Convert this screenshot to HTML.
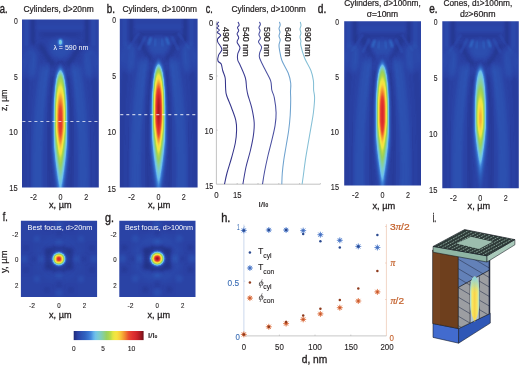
<!DOCTYPE html>
<html><head><meta charset="utf-8"><title>Figure</title>
<style>
html,body{margin:0;padding:0;background:#fff;}
body{width:520px;height:365px;overflow:hidden;}
svg{display:block;font-family:"Liberation Sans",sans-serif;}
</style></head><body>
<svg width="520" height="365" viewBox="0 0 520 365">
<defs>
<filter id="cm" filterUnits="userSpaceOnUse" x="0" y="0" width="520" height="365" color-interpolation-filters="sRGB">
<feComponentTransfer><feFuncR type="table" tableValues="0.118 0.130 0.142 0.154 0.165 0.168 0.171 0.174 0.177 0.181 0.184 0.194 0.207 0.220 0.233 0.247 0.288 0.330 0.373 0.415 0.437 0.453 0.469 0.486 0.498 0.510 0.523 0.536 0.555 0.575 0.595 0.623 0.653 0.682 0.742 0.813 0.885 0.937 0.948 0.958 0.969 0.973 0.973 0.973 0.969 0.960 0.952 0.944 0.935 0.925 0.915 0.906 0.898 0.890 0.882 0.864 0.839 0.815 0.790 0.747 0.698 0.649 0.581 0.498 0.416"/><feFuncG type="table" tableValues="0.165 0.188 0.212 0.235 0.258 0.278 0.299 0.319 0.339 0.359 0.379 0.402 0.426 0.450 0.473 0.497 0.557 0.618 0.679 0.741 0.763 0.775 0.787 0.800 0.804 0.808 0.812 0.816 0.816 0.816 0.816 0.825 0.835 0.844 0.860 0.879 0.897 0.907 0.898 0.890 0.881 0.845 0.796 0.747 0.694 0.637 0.580 0.523 0.458 0.389 0.321 0.272 0.247 0.223 0.198 0.178 0.162 0.146 0.129 0.118 0.108 0.098 0.087 0.075 0.063"/><feFuncB type="table" tableValues="0.471 0.516 0.560 0.605 0.646 0.663 0.680 0.697 0.715 0.732 0.749 0.768 0.787 0.807 0.827 0.846 0.869 0.891 0.914 0.937 0.915 0.882 0.850 0.817 0.761 0.704 0.646 0.588 0.519 0.451 0.382 0.354 0.329 0.305 0.288 0.274 0.260 0.251 0.251 0.251 0.251 0.244 0.235 0.225 0.216 0.208 0.199 0.191 0.188 0.188 0.188 0.188 0.188 0.188 0.188 0.183 0.175 0.167 0.159 0.149 0.140 0.130 0.119 0.106 0.094"/></feComponentTransfer></filter>
<filter id="b05" x="-50%" y="-50%" width="200%" height="200%" color-interpolation-filters="sRGB"><feGaussianBlur stdDeviation="0.5"/></filter>
<filter id="b08" x="-50%" y="-50%" width="200%" height="200%" color-interpolation-filters="sRGB"><feGaussianBlur stdDeviation="0.8"/></filter>
<filter id="b1" x="-50%" y="-50%" width="200%" height="200%" color-interpolation-filters="sRGB"><feGaussianBlur stdDeviation="1"/></filter>
<filter id="b15" x="-50%" y="-50%" width="200%" height="200%" color-interpolation-filters="sRGB"><feGaussianBlur stdDeviation="1.5"/></filter>
<filter id="b2" x="-50%" y="-50%" width="200%" height="200%" color-interpolation-filters="sRGB"><feGaussianBlur stdDeviation="2"/></filter>
<filter id="b3" x="-50%" y="-50%" width="200%" height="200%" color-interpolation-filters="sRGB"><feGaussianBlur stdDeviation="3"/></filter>
<filter id="b4" x="-50%" y="-50%" width="200%" height="200%" color-interpolation-filters="sRGB"><feGaussianBlur stdDeviation="4"/></filter>
<filter id="b2x6" x="-50%" y="-50%" width="200%" height="200%" color-interpolation-filters="sRGB"><feGaussianBlur stdDeviation="2 6"/></filter>
<filter id="b1x4" x="-50%" y="-50%" width="200%" height="200%" color-interpolation-filters="sRGB"><feGaussianBlur stdDeviation="1.2 4"/></filter>
<filter id="b3x8" x="-50%" y="-50%" width="200%" height="200%" color-interpolation-filters="sRGB"><feGaussianBlur stdDeviation="3 8"/></filter>
<linearGradient id="cbar" x1="0" x2="1" y1="0" y2="0"><stop offset="0" stop-color="#1e2a78"/><stop offset="0.03" stop-color="#24368f"/><stop offset="0.06" stop-color="#2a42a5"/><stop offset="0.09" stop-color="#2c4cad"/><stop offset="0.12" stop-color="#2d56b6"/><stop offset="0.16" stop-color="#2f61bf"/><stop offset="0.19" stop-color="#356dc9"/><stop offset="0.22" stop-color="#3c79d3"/><stop offset="0.25" stop-color="#498ede"/><stop offset="0.28" stop-color="#5fade9"/><stop offset="0.31" stop-color="#6fc2e9"/><stop offset="0.34" stop-color="#78c9d9"/><stop offset="0.38" stop-color="#7fcdc2"/><stop offset="0.41" stop-color="#85cfa5"/><stop offset="0.44" stop-color="#8ed084"/><stop offset="0.47" stop-color="#98d061"/><stop offset="0.5" stop-color="#a6d554"/><stop offset="0.53" stop-color="#bddb49"/><stop offset="0.56" stop-color="#e2e542"/><stop offset="0.59" stop-color="#f2e540"/><stop offset="0.62" stop-color="#f7e140"/><stop offset="0.66" stop-color="#f8cb3c"/><stop offset="0.69" stop-color="#f7b137"/><stop offset="0.72" stop-color="#f39433"/><stop offset="0.75" stop-color="#ee7530"/><stop offset="0.78" stop-color="#e95230"/><stop offset="0.81" stop-color="#e53f30"/><stop offset="0.84" stop-color="#e13230"/><stop offset="0.88" stop-color="#d6292d"/><stop offset="0.91" stop-color="#ca2128"/><stop offset="0.94" stop-color="#b21c24"/><stop offset="0.97" stop-color="#94161e"/><stop offset="1" stop-color="#6a1018"/></linearGradient>
</defs>
<rect width="520" height="365" fill="#fff"/>
<clipPath id="cpa"><rect x="22" y="19.5" width="76.8" height="168.1"/></clipPath>
<g clip-path="url(#cpa)"><g filter="url(#cm)">
<rect x="17" y="14.5" width="86.8" height="178.1" fill="#111111"/>
<rect x="36.4" y="24.5" width="48" height="6" fill="#fff" fill-opacity="0.02" filter="url(#b2)"/>
<rect x="39.4" y="32" width="42" height="5" fill="#000" fill-opacity="0.34" filter="url(#b2)"/>
<line x1="40.4" y1="34" x2="80.4" y2="34" stroke="#000" stroke-opacity="0.31" stroke-width="3" stroke-dasharray="2.2 2.6" filter="url(#b08)"/>
<line x1="38" y1="27.5" x2="84.4" y2="27.5" stroke="#fff" stroke-opacity="0.02" stroke-width="2.5" stroke-dasharray="2.4 2.4" filter="url(#b08)"/>
<rect x="30.9" y="16.5" width="4" height="28" fill="#000" fill-opacity="0.46" filter="url(#b15)"/>
<rect x="84.9" y="16.5" width="4" height="28" fill="#000" fill-opacity="0.46" filter="url(#b15)"/>
<rect x="24.9" y="16.5" width="3" height="30" fill="#fff" fill-opacity="0.03" filter="url(#b15)"/>
<rect x="91.9" y="16.5" width="3" height="30" fill="#fff" fill-opacity="0.03" filter="url(#b15)"/>
<ellipse cx="60.4" cy="48.5" rx="12" ry="11" fill="#fff" fill-opacity="0.04" filter="url(#b3)"/>
<ellipse cx="60.4" cy="63" rx="4" ry="3.5" fill="#000" fill-opacity="0.31" filter="url(#b2)"/>
<line x1="39.4" y1="44" x2="53.4" y2="66" stroke="#000" stroke-opacity="0.49" stroke-width="5.5" filter="url(#b2)"/>
<ellipse cx="30.4" cy="64" rx="7" ry="15" fill="#fff" fill-opacity="0.05" filter="url(#b3)"/>
<line x1="81.4" y1="44" x2="67.4" y2="66" stroke="#000" stroke-opacity="0.49" stroke-width="5.5" filter="url(#b2)"/>
<ellipse cx="90.4" cy="64" rx="7" ry="15" fill="#fff" fill-opacity="0.05" filter="url(#b3)"/>
<path d="M45.4,66Q34.9,115.2 36.4,191.6" fill="none" stroke="#fff" stroke-opacity="0.05" stroke-width="10" filter="url(#b3)"/>
<path d="M48.4,62Q39.15,117.2 40.9,191.6" fill="none" stroke="#fff" stroke-opacity="0.02" stroke-width="3.5" filter="url(#b15)"/>
<path d="M52.9,76Q47.4,116.2 49.9,191.6" fill="none" stroke="#000" stroke-opacity="0.4" stroke-width="4" filter="url(#b2)"/>
<path d="M39.4,58Q29.65,115.2 30.9,191.6" fill="none" stroke="#000" stroke-opacity="0.18" stroke-width="2.5" filter="url(#b15)"/>
<path d="M29.4,54Q21.9,113.2 22.4,191.6" fill="none" stroke="#000" stroke-opacity="0.31" stroke-width="5" filter="url(#b2)"/>
<path d="M75.4,66Q85.9,115.2 84.4,191.6" fill="none" stroke="#fff" stroke-opacity="0.05" stroke-width="10" filter="url(#b3)"/>
<path d="M72.4,62Q81.65,117.2 79.9,191.6" fill="none" stroke="#fff" stroke-opacity="0.02" stroke-width="3.5" filter="url(#b15)"/>
<path d="M67.9,76Q73.4,116.2 70.9,191.6" fill="none" stroke="#000" stroke-opacity="0.4" stroke-width="4" filter="url(#b2)"/>
<path d="M81.4,58Q91.15,115.2 89.9,191.6" fill="none" stroke="#000" stroke-opacity="0.18" stroke-width="2.5" filter="url(#b15)"/>
<path d="M91.4,54Q98.9,113.2 98.4,191.6" fill="none" stroke="#000" stroke-opacity="0.31" stroke-width="5" filter="url(#b2)"/>
<ellipse cx="60.4" cy="42.2" rx="1.9" ry="3.1" fill="#fff" fill-opacity="0.33" filter="url(#b08)"/>
<g filter="url(#b08)"><path d="M60.4,63 64.13,69.34 65.51,75.68 66.45,82.03 67.14,88.37 67.65,94.71 68.03,101.05 68.3,107.39 68.48,113.74 68.57,120.08 68.6,126.42 68.6,150.58 68.27,156.92 67.74,163.26 67.08,169.61 66.33,175.95 65.49,182.29 64.59,188.63 63.62,194.97 62.6,201.32 61.52,207.66 60.4,214 L60.4,214 59.28,207.66 58.2,201.32 57.18,194.97 56.21,188.63 55.31,182.29 54.47,175.95 53.72,169.61 53.06,163.26 52.53,156.92 52.2,150.58 52.2,126.42 52.23,120.08 52.32,113.74 52.5,107.39 52.77,101.05 53.15,94.71 53.66,88.37 54.35,82.03 55.29,75.68 56.67,69.34 60.4,63Z" fill="#1a1a1a"/>
<path d="M60.4,64.48 63.93,70.56 65.23,76.64 66.12,82.72 66.77,88.8 67.26,94.88 67.62,100.97 67.88,107.05 68.04,113.13 68.13,119.21 68.16,125.29 68.16,148.45 67.85,154.53 67.34,160.62 66.72,166.7 66.01,172.78 65.22,178.86 64.36,184.94 63.45,191.02 62.48,197.1 61.46,203.18 60.4,209.26 L60.4,209.26 59.34,203.18 58.32,197.1 57.35,191.02 56.44,184.94 55.58,178.86 54.79,172.78 54.08,166.7 53.46,160.62 52.95,154.53 52.64,148.45 52.64,125.29 52.67,119.21 52.76,113.13 52.92,107.05 53.18,100.97 53.54,94.88 54.03,88.8 54.68,82.72 55.57,76.64 56.87,70.56 60.4,64.48Z" fill="#212121"/>
<path d="M60.4,65.73 63.76,71.59 65,77.45 65.85,83.31 66.47,89.17 66.94,95.03 67.28,100.89 67.52,106.75 67.68,112.61 67.77,118.47 67.79,124.33 67.79,146.66 67.5,152.52 67.01,158.38 66.42,164.24 65.74,170.1 64.99,175.96 64.18,181.82 63.3,187.68 62.38,193.54 61.41,199.4 60.4,205.26 L60.4,205.26 59.39,199.4 58.42,193.54 57.5,187.68 56.62,181.82 55.81,175.96 55.06,170.1 54.38,164.24 53.79,158.38 53.3,152.52 53.01,146.66 53.01,124.33 53.03,118.47 53.12,112.61 53.28,106.75 53.52,100.89 53.86,95.03 54.33,89.17 54.95,83.31 55.8,77.45 57.04,71.59 60.4,65.73Z" fill="#292929"/>
<path d="M60.4,66.47 63.67,72.2 64.88,77.93 65.71,83.66 66.31,89.39 66.77,95.12 67.1,100.85 67.34,106.58 67.49,112.31 67.57,118.04 67.6,123.77 67.6,145.6 67.31,151.33 66.84,157.05 66.26,162.78 65.6,168.51 64.87,174.24 64.08,179.97 63.23,185.7 62.33,191.43 61.39,197.16 60.4,202.89 L60.4,202.89 59.41,197.16 58.47,191.43 57.57,185.7 56.72,179.97 55.93,174.24 55.2,168.51 54.54,162.78 53.96,157.05 53.49,151.33 53.2,145.6 53.2,123.77 53.23,118.04 53.31,112.31 53.46,106.58 53.7,100.85 54.03,95.12 54.49,89.39 55.09,83.66 55.92,77.93 57.13,72.2 60.4,66.47Z" fill="#303030"/>
<path d="M60.4,67.21 63.59,72.81 64.76,78.41 65.57,84.01 66.16,89.61 66.6,95.21 66.92,100.81 67.15,106.41 67.3,112 67.38,117.6 67.41,123.2 67.41,144.53 67.13,150.13 66.67,155.73 66.11,161.33 65.46,166.93 64.75,172.53 63.98,178.13 63.15,183.73 62.28,189.32 61.36,194.92 60.4,200.52 L60.4,200.52 59.44,194.92 58.52,189.32 57.65,183.73 56.82,178.13 56.05,172.53 55.34,166.93 54.69,161.33 54.13,155.73 53.67,150.13 53.39,144.53 53.39,123.2 53.42,117.6 53.5,112 53.65,106.41 53.88,100.81 54.2,95.21 54.64,89.61 55.23,84.01 56.04,78.41 57.21,72.81 60.4,67.21Z" fill="#383838"/>
<path d="M60.4,67.95 63.5,73.42 64.64,78.89 65.42,84.36 66,89.83 66.43,95.29 66.74,100.76 66.97,106.23 67.11,111.7 67.19,117.17 67.21,122.64 67.21,143.47 66.94,148.94 66.5,154.41 65.95,159.87 65.32,165.34 64.63,170.81 63.88,176.28 63.08,181.75 62.23,187.22 61.33,192.69 60.4,198.15 L60.4,198.15 59.47,192.69 58.57,187.22 57.72,181.75 56.92,176.28 56.17,170.81 55.48,165.34 54.85,159.87 54.3,154.41 53.86,148.94 53.59,143.47 53.59,122.64 53.61,117.17 53.69,111.7 53.83,106.23 54.06,100.76 54.37,95.29 54.8,89.83 55.38,84.36 56.16,78.89 57.3,73.42 60.4,67.95Z" fill="#3f3f3f"/>
<path d="M60.4,68.52 63.41,73.84 64.53,79.16 65.29,84.48 65.84,89.81 66.26,95.13 66.57,100.45 66.79,105.77 66.93,111.09 67.01,116.42 67.03,121.74 67.03,142.01 66.76,147.33 66.33,152.66 65.8,157.98 65.19,163.3 64.52,168.62 63.79,173.94 63,179.27 62.18,184.59 61.31,189.91 60.4,195.23 L60.4,195.23 59.49,189.91 58.62,184.59 57.8,179.27 57.01,173.94 56.28,168.62 55.61,163.3 55,157.98 54.47,152.66 54.04,147.33 53.77,142.01 53.77,121.74 53.79,116.42 53.87,111.09 54.01,105.77 54.23,100.45 54.54,95.13 54.96,89.81 55.51,84.48 56.27,79.16 57.39,73.84 60.4,68.52Z" fill="#474747"/>
<path d="M60.4,69.07 63.33,74.25 64.41,79.42 65.15,84.6 65.69,89.77 66.1,94.95 66.4,100.12 66.61,105.29 66.75,110.47 66.82,115.64 66.84,120.82 66.84,140.53 66.59,145.7 66.17,150.88 65.65,156.05 65.06,161.22 64.4,166.4 63.69,171.57 62.93,176.75 62.13,181.92 61.28,187.1 60.4,192.27 L60.4,192.27 59.52,187.1 58.67,181.92 57.87,176.75 57.11,171.57 56.4,166.4 55.74,161.22 55.15,156.05 54.63,150.88 54.21,145.7 53.96,140.53 53.96,120.82 53.98,115.64 54.05,110.47 54.19,105.29 54.4,100.12 54.7,94.95 55.11,89.77 55.65,84.6 56.39,79.42 57.47,74.25 60.4,69.07Z" fill="#4e4e4e"/>
<path d="M60.4,69.69 63.25,74.71 64.3,79.72 65.01,84.73 65.54,89.75 65.94,94.76 66.23,99.78 66.43,104.79 66.57,109.81 66.64,114.82 66.66,119.83 66.66,138.94 66.41,143.95 66,148.96 65.5,153.98 64.92,158.99 64.29,164.01 63.6,169.02 62.86,174.03 62.08,179.05 61.26,184.06 60.4,189.08 L60.4,189.08 59.54,184.06 58.72,179.05 57.94,174.03 57.2,169.02 56.51,164.01 55.88,158.99 55.3,153.98 54.8,148.96 54.39,143.95 54.14,138.94 54.14,119.83 54.16,114.82 54.23,109.81 54.37,104.79 54.57,99.78 54.86,94.76 55.26,89.75 55.79,84.73 56.5,79.72 57.55,74.71 60.4,69.69Z" fill="#565656"/>
<path d="M60.4,70.51 63.16,75.33 64.18,80.14 64.88,84.96 65.39,89.77 65.77,94.58 66.06,99.4 66.26,104.21 66.39,109.03 66.46,113.84 66.48,118.65 66.48,136.99 66.23,141.8 65.84,146.62 65.35,151.43 64.79,156.25 64.17,161.06 63.5,165.87 62.79,170.69 62.03,175.5 61.23,180.31 60.4,185.13 L60.4,185.13 59.57,180.31 58.77,175.5 58.01,170.69 57.3,165.87 56.63,161.06 56.01,156.25 55.45,151.43 54.96,146.62 54.57,141.8 54.32,136.99 54.32,118.65 54.34,113.84 54.41,109.03 54.54,104.21 54.74,99.4 55.03,94.58 55.41,89.77 55.92,84.96 56.62,80.14 57.64,75.33 60.4,70.51Z" fill="#5d5d5d"/>
<path d="M60.4,71.34 63.08,75.95 64.07,80.56 64.75,85.18 65.24,89.79 65.61,94.4 65.89,99.02 66.08,103.63 66.21,108.24 66.28,112.86 66.3,117.47 66.3,135.05 66.06,139.66 65.68,144.27 65.2,148.89 64.66,153.5 64.06,158.11 63.41,162.73 62.72,167.34 61.98,171.95 61.21,176.57 60.4,181.18 L60.4,181.18 59.59,176.57 58.82,171.95 58.08,167.34 57.39,162.73 56.74,158.11 56.14,153.5 55.6,148.89 55.12,144.27 54.74,139.66 54.5,135.05 54.5,117.47 54.52,112.86 54.59,108.24 54.72,103.63 54.91,99.02 55.19,94.4 55.56,89.79 56.05,85.18 56.73,80.56 57.72,75.95 60.4,71.34Z" fill="#656565"/>
<path d="M60.4,72.29 62.99,76.7 63.95,81.11 64.6,85.53 65.08,89.94 65.44,94.35 65.7,98.76 65.89,103.18 66.01,107.59 66.08,112 66.1,116.41 66.1,133.22 65.87,137.64 65.5,142.05 65.04,146.46 64.52,150.88 63.94,155.29 63.31,159.7 62.64,164.11 61.93,168.53 61.18,172.94 60.4,177.35 L60.4,177.35 59.62,172.94 58.87,168.53 58.16,164.11 57.49,159.7 56.86,155.29 56.28,150.88 55.76,146.46 55.3,142.05 54.93,137.64 54.7,133.22 54.7,116.41 54.72,112 54.79,107.59 54.91,103.18 55.1,98.76 55.36,94.35 55.72,89.94 56.2,85.53 56.85,81.11 57.81,76.7 60.4,72.29Z" fill="#6d6d6d"/>
<path d="M60.4,73.77 62.86,77.98 63.77,82.19 64.4,86.4 64.85,90.61 65.19,94.82 65.44,99.03 65.62,103.24 65.74,107.45 65.8,111.66 65.82,115.87 65.82,131.91 65.6,136.12 65.25,140.34 64.81,144.55 64.32,148.76 63.77,152.97 63.17,157.18 62.53,161.39 61.85,165.6 61.14,169.81 60.4,174.02 L60.4,174.02 59.66,169.81 58.95,165.6 58.27,161.39 57.63,157.18 57.03,152.97 56.48,148.76 55.99,144.55 55.55,140.34 55.2,136.12 54.98,131.91 54.98,115.87 55,111.66 55.06,107.45 55.18,103.24 55.36,99.03 55.61,94.82 55.95,90.61 56.4,86.4 57.03,82.19 57.94,77.98 60.4,73.77Z" fill="#747474"/>
<path d="M60.4,75.25 62.74,79.26 63.6,83.27 64.19,87.28 64.62,91.28 64.95,95.29 65.19,99.3 65.36,103.31 65.47,107.32 65.52,111.33 65.54,115.33 65.54,130.6 65.34,134.61 65,138.62 64.59,142.63 64.12,146.64 63.59,150.65 63.03,154.65 62.42,158.66 61.78,162.67 61.1,166.68 60.4,170.69 L60.4,170.69 59.7,166.68 59.02,162.67 58.38,158.66 57.77,154.65 57.21,150.65 56.68,146.64 56.21,142.63 55.8,138.62 55.46,134.61 55.26,130.6 55.26,115.33 55.28,111.33 55.33,107.32 55.44,103.31 55.61,99.3 55.85,95.29 56.18,91.28 56.61,87.28 57.2,83.27 58.06,79.26 60.4,75.25Z" fill="#7c7c7c"/>
<path d="M60.4,77.6 62.61,81.36 63.42,85.13 63.98,88.89 64.38,92.65 64.69,96.42 64.92,100.18 65.08,103.94 65.18,107.71 65.23,111.47 65.25,115.23 65.25,129.57 65.06,133.33 64.74,137.09 64.35,140.86 63.91,144.62 63.41,148.38 62.88,152.15 62.31,155.91 61.7,159.67 61.07,163.44 60.4,167.2 L60.4,167.2 59.73,163.44 59.1,159.67 58.49,155.91 57.92,152.15 57.39,148.38 56.89,144.62 56.45,140.86 56.06,137.09 55.74,133.33 55.55,129.57 55.55,115.23 55.57,111.47 55.62,107.71 55.72,103.94 55.88,100.18 56.11,96.42 56.42,92.65 56.82,88.89 57.38,85.13 58.19,81.36 60.4,77.6Z" fill="#838383"/>
<path d="M60.4,80.85 62.47,84.32 63.23,87.79 63.75,91.27 64.13,94.74 64.42,98.21 64.63,101.69 64.78,105.16 64.88,108.63 64.93,112.11 64.95,115.58 64.95,128.81 64.76,132.29 64.47,135.76 64.1,139.23 63.69,142.71 63.22,146.18 62.72,149.65 62.19,153.13 61.62,156.6 61.02,160.07 60.4,163.55 L60.4,163.55 59.78,160.07 59.18,156.6 58.61,153.13 58.08,149.65 57.58,146.18 57.11,142.71 56.7,139.23 56.33,135.76 56.04,132.29 55.85,128.81 55.85,115.58 55.87,112.11 55.92,108.63 56.02,105.16 56.17,101.69 56.38,98.21 56.67,94.74 57.05,91.27 57.57,87.79 58.33,84.32 60.4,80.85Z" fill="#8b8b8b"/>
<path d="M60.4,84.06 62.33,87.25 63.04,90.43 63.53,93.62 63.89,96.81 64.15,99.99 64.35,103.18 64.49,106.37 64.58,109.56 64.63,112.74 64.64,115.93 64.64,128.07 64.48,131.26 64.2,134.44 63.86,137.63 63.47,140.82 63.04,144.01 62.57,147.19 62.07,150.38 61.54,153.57 60.98,156.75 60.4,159.94 L60.4,159.94 59.82,156.75 59.26,153.57 58.73,150.38 58.23,147.19 57.76,144.01 57.33,140.82 56.94,137.63 56.6,134.44 56.32,131.26 56.16,128.07 56.16,115.93 56.17,112.74 56.22,109.56 56.31,106.37 56.45,103.18 56.65,99.99 56.91,96.81 57.27,93.62 57.76,90.43 58.47,87.25 60.4,84.06Z" fill="#929292"/>
<path d="M60.4,86.14 62.24,89.15 62.91,92.16 63.38,95.17 63.72,98.19 63.97,101.2 64.16,104.21 64.29,107.22 64.38,110.24 64.42,113.25 64.44,116.26 64.44,127.74 64.28,130.75 64.01,133.76 63.69,136.78 63.32,139.79 62.91,142.8 62.46,145.81 61.99,148.83 61.48,151.84 60.95,154.85 60.4,157.86 L60.4,157.86 59.85,154.85 59.32,151.84 58.81,148.83 58.34,145.81 57.89,142.8 57.48,139.79 57.11,136.78 56.79,133.76 56.52,130.75 56.36,127.74 56.36,116.26 56.38,113.25 56.42,110.24 56.51,107.22 56.64,104.21 56.83,101.2 57.08,98.19 57.42,95.17 57.89,92.16 58.56,89.15 60.4,86.14Z" fill="#9a9a9a"/>
<path d="M60.4,88.26 62.14,91.09 62.78,93.92 63.22,96.76 63.54,99.59 63.78,102.43 63.96,105.26 64.08,108.09 64.17,110.93 64.21,113.76 64.22,116.59 64.22,127.39 64.07,130.22 63.82,133.06 63.51,135.89 63.16,138.72 62.77,141.56 62.35,144.39 61.9,147.23 61.43,150.06 60.92,152.89 60.4,155.73 L60.4,155.73 59.88,152.89 59.37,150.06 58.9,147.23 58.45,144.39 58.03,141.56 57.64,138.72 57.29,135.89 56.98,133.06 56.73,130.22 56.58,127.39 56.58,116.59 56.59,113.76 56.63,110.93 56.72,108.09 56.84,105.26 57.02,102.43 57.26,99.59 57.58,96.76 58.02,93.92 58.66,91.09 60.4,88.26Z" fill="#a1a1a1"/>
<path d="M60.4,90.72 62.01,93.34 62.61,95.96 63.01,98.58 63.31,101.2 63.53,103.82 63.7,106.44 63.81,109.06 63.89,111.68 63.93,114.3 63.94,116.92 63.94,126.9 63.8,129.52 63.57,132.14 63.28,134.76 62.96,137.38 62.6,140 62.21,142.62 61.79,145.24 61.35,147.85 60.89,150.47 60.4,153.09 L60.4,153.09 59.91,150.47 59.45,147.85 59.01,145.24 58.59,142.62 58.2,140 57.84,137.38 57.52,134.76 57.23,132.14 57,129.52 56.86,126.9 56.86,116.92 56.87,114.3 56.91,111.68 56.99,109.06 57.1,106.44 57.27,103.82 57.49,101.2 57.79,98.58 58.19,95.96 58.79,93.34 60.4,90.72Z" fill="#a9a9a9"/>
<path d="M60.4,93.19 61.88,95.6 62.43,98 62.81,100.41 63.08,102.81 63.28,105.22 63.44,107.62 63.54,110.03 63.61,112.43 63.65,114.84 63.66,117.25 63.66,126.41 63.53,128.81 63.32,131.22 63.06,133.62 62.76,136.03 62.43,138.44 62.07,140.84 61.68,143.25 61.28,145.65 60.85,148.06 60.4,150.46 L60.4,150.46 59.95,148.06 59.52,145.65 59.12,143.25 58.73,140.84 58.37,138.44 58.04,136.03 57.74,133.62 57.48,131.22 57.27,128.81 57.14,126.41 57.14,117.25 57.15,114.84 57.19,112.43 57.26,110.03 57.36,107.62 57.52,105.22 57.72,102.81 57.99,100.41 58.37,98 58.92,95.6 60.4,93.19Z" fill="#b1b1b1"/>
<path d="M60.4,95.7 61.75,97.89 62.25,100.09 62.59,102.28 62.84,104.47 63.03,106.66 63.17,108.85 63.26,111.04 63.33,113.23 63.36,115.42 63.37,117.61 63.37,125.95 63.25,128.14 63.06,130.33 62.82,132.52 62.55,134.71 62.25,136.9 61.92,139.09 61.57,141.28 61.2,143.48 60.81,145.67 60.4,147.86 L60.4,147.86 59.99,145.67 59.6,143.48 59.23,141.28 58.88,139.09 58.55,136.9 58.25,134.71 57.98,132.52 57.74,130.33 57.55,128.14 57.43,125.95 57.43,117.61 57.44,115.42 57.47,113.23 57.54,111.04 57.63,108.85 57.77,106.66 57.96,104.47 58.21,102.28 58.55,100.09 59.05,97.89 60.4,95.7Z" fill="#b8b8b8"/>
<path d="M60.4,98.85 61.55,100.82 61.97,102.78 62.26,104.75 62.48,106.71 62.64,108.68 62.75,110.64 62.84,112.61 62.89,114.57 62.92,116.54 62.93,118.5 62.93,125.99 62.83,127.95 62.66,129.92 62.46,131.88 62.23,133.85 61.97,135.81 61.69,137.77 61.39,139.74 61.08,141.7 60.75,143.67 60.4,145.63 L60.4,145.63 60.05,143.67 59.72,141.7 59.41,139.74 59.11,137.77 58.83,135.81 58.57,133.85 58.34,131.88 58.14,129.92 57.97,127.95 57.87,125.99 57.87,118.5 57.88,116.54 57.91,114.57 57.96,112.61 58.05,110.64 58.16,108.68 58.32,106.71 58.54,104.75 58.83,102.78 59.25,100.82 60.4,98.85Z" fill="#c0c0c0"/>
<path d="M60.4,102 61.35,103.74 61.7,105.48 61.94,107.22 62.11,108.96 62.24,110.69 62.34,112.43 62.41,114.17 62.45,115.91 62.48,117.65 62.48,119.39 62.48,126.02 62.4,127.76 62.26,129.5 62.1,131.24 61.91,132.98 61.69,134.72 61.46,136.46 61.22,138.2 60.96,139.93 60.69,141.67 60.4,143.41 L60.4,143.41 60.11,141.67 59.84,139.93 59.58,138.2 59.34,136.46 59.11,134.72 58.89,132.98 58.7,131.24 58.54,129.5 58.4,127.76 58.32,126.02 58.32,119.39 58.32,117.65 58.35,115.91 58.39,114.17 58.46,112.43 58.56,110.69 58.69,108.96 58.86,107.22 59.1,105.48 59.45,103.74 60.4,102Z" fill="#c7c7c7"/>
<path d="M60.4,105.29 61.14,106.78 61.41,108.27 61.6,109.75 61.74,111.24 61.84,112.73 61.92,114.22 61.97,115.7 62,117.19 62.02,118.68 62.03,120.17 62.03,125.83 61.96,127.32 61.86,128.81 61.73,130.3 61.58,131.78 61.41,133.27 61.23,134.76 61.04,136.25 60.84,137.73 60.62,139.22 60.4,140.71 L60.4,140.71 60.18,139.22 59.96,137.73 59.76,136.25 59.57,134.76 59.39,133.27 59.22,131.78 59.07,130.3 58.94,128.81 58.84,127.32 58.77,125.83 58.77,120.17 58.78,118.68 58.8,117.19 58.83,115.7 58.88,114.22 58.96,112.73 59.06,111.24 59.2,109.75 59.39,108.27 59.66,106.78 60.4,105.29Z" fill="#cfcfcf"/>
<path d="M60.4,108.85 60.92,110.04 61.12,111.22 61.25,112.41 61.35,113.6 61.42,114.79 61.47,115.98 61.51,117.17 61.54,118.36 61.55,119.55 61.55,120.74 61.55,125.26 61.51,126.45 61.43,127.64 61.34,128.83 61.23,130.02 61.12,131.21 60.99,132.4 60.85,133.59 60.71,134.78 60.56,135.96 60.4,137.15 L60.4,137.15 60.24,135.96 60.09,134.78 59.95,133.59 59.81,132.4 59.68,131.21 59.57,130.02 59.46,128.83 59.37,127.64 59.29,126.45 59.25,125.26 59.25,120.74 59.25,119.55 59.26,118.36 59.29,117.17 59.33,115.98 59.38,114.79 59.45,113.6 59.55,112.41 59.68,111.22 59.88,110.04 60.4,108.85Z" fill="#d6d6d6"/>
<path d="M60.4,115 60.63,115.63 60.71,116.26 60.77,116.89 60.81,117.52 60.84,118.15 60.87,118.78 60.88,119.41 60.89,120.04 60.9,120.67 60.9,121.3 60.9,123.7 60.88,124.33 60.85,124.96 60.81,125.59 60.76,126.22 60.71,126.85 60.66,127.48 60.6,128.11 60.53,128.74 60.47,129.37 60.4,130 L60.4,130 60.33,129.37 60.27,128.74 60.2,128.11 60.14,127.48 60.09,126.85 60.04,126.22 59.99,125.59 59.95,124.96 59.92,124.33 59.9,123.7 59.9,121.3 59.9,120.67 59.91,120.04 59.92,119.41 59.93,118.78 59.96,118.15 59.99,117.52 60.03,116.89 60.09,116.26 60.17,115.63 60.4,115Z" fill="#dedede"/></g>
</g></g>
<clipPath id="cpb"><rect x="119.8" y="18.8" width="77.8" height="168.8"/></clipPath>
<g clip-path="url(#cpb)"><g filter="url(#cm)">
<rect x="114.8" y="13.8" width="87.8" height="178.8" fill="#111111"/>
<rect x="134.6" y="23.8" width="48" height="6" fill="#fff" fill-opacity="0.02" filter="url(#b2)"/>
<rect x="137.6" y="31.3" width="42" height="5" fill="#000" fill-opacity="0.34" filter="url(#b2)"/>
<line x1="138.6" y1="33.3" x2="178.6" y2="33.3" stroke="#000" stroke-opacity="0.31" stroke-width="3" stroke-dasharray="2.2 2.6" filter="url(#b08)"/>
<line x1="136.2" y1="26.8" x2="182.6" y2="26.8" stroke="#fff" stroke-opacity="0.02" stroke-width="2.5" stroke-dasharray="2.4 2.4" filter="url(#b08)"/>
<rect x="129.1" y="15.8" width="4" height="28" fill="#000" fill-opacity="0.46" filter="url(#b15)"/>
<rect x="183.1" y="15.8" width="4" height="28" fill="#000" fill-opacity="0.46" filter="url(#b15)"/>
<rect x="123.1" y="15.8" width="3" height="30" fill="#fff" fill-opacity="0.03" filter="url(#b15)"/>
<rect x="190.1" y="15.8" width="3" height="30" fill="#fff" fill-opacity="0.03" filter="url(#b15)"/>
<ellipse cx="158.6" cy="47.8" rx="12" ry="11" fill="#fff" fill-opacity="0.04" filter="url(#b3)"/>
<ellipse cx="158.6" cy="57" rx="4" ry="3.5" fill="#000" fill-opacity="0.31" filter="url(#b2)"/>
<line x1="137.6" y1="38" x2="151.6" y2="60" stroke="#000" stroke-opacity="0.49" stroke-width="5.5" filter="url(#b2)"/>
<ellipse cx="128.6" cy="58" rx="7" ry="15" fill="#fff" fill-opacity="0.05" filter="url(#b3)"/>
<line x1="179.6" y1="38" x2="165.6" y2="60" stroke="#000" stroke-opacity="0.49" stroke-width="5.5" filter="url(#b2)"/>
<ellipse cx="188.6" cy="58" rx="7" ry="15" fill="#fff" fill-opacity="0.05" filter="url(#b3)"/>
<path d="M143.6,60Q133.1,118.2 134.6,191.6" fill="none" stroke="#fff" stroke-opacity="0.05" stroke-width="10" filter="url(#b3)"/>
<path d="M146.6,56Q137.35,120.2 139.1,191.6" fill="none" stroke="#fff" stroke-opacity="0.02" stroke-width="3.5" filter="url(#b15)"/>
<path d="M151.1,70Q145.6,119.2 148.1,191.6" fill="none" stroke="#000" stroke-opacity="0.4" stroke-width="4" filter="url(#b2)"/>
<path d="M137.6,52Q127.85,118.2 129.1,191.6" fill="none" stroke="#000" stroke-opacity="0.18" stroke-width="2.5" filter="url(#b15)"/>
<path d="M127.6,48Q120.1,116.2 120.6,191.6" fill="none" stroke="#000" stroke-opacity="0.31" stroke-width="5" filter="url(#b2)"/>
<path d="M173.6,60Q184.1,118.2 182.6,191.6" fill="none" stroke="#fff" stroke-opacity="0.05" stroke-width="10" filter="url(#b3)"/>
<path d="M170.6,56Q179.85,120.2 178.1,191.6" fill="none" stroke="#fff" stroke-opacity="0.02" stroke-width="3.5" filter="url(#b15)"/>
<path d="M166.1,70Q171.6,119.2 169.1,191.6" fill="none" stroke="#000" stroke-opacity="0.4" stroke-width="4" filter="url(#b2)"/>
<path d="M179.6,52Q189.35,118.2 188.1,191.6" fill="none" stroke="#000" stroke-opacity="0.18" stroke-width="2.5" filter="url(#b15)"/>
<path d="M189.6,48Q197.1,116.2 196.6,191.6" fill="none" stroke="#000" stroke-opacity="0.31" stroke-width="5" filter="url(#b2)"/>
<line x1="151" y1="37.3" x2="148.4" y2="44.8" stroke="#fff" stroke-opacity="0.17" stroke-width="1.6" filter="url(#b08)"/>
<line x1="155.6" y1="38.3" x2="154.6" y2="46.3" stroke="#fff" stroke-opacity="0.07" stroke-width="1.6" filter="url(#b08)"/>
<line x1="145.6" y1="36.3" x2="138.6" y2="50.3" stroke="#fff" stroke-opacity="0.06" stroke-width="2" filter="url(#b1)"/>
<line x1="139.6" y1="32.3" x2="127.6" y2="49.3" stroke="#fff" stroke-opacity="0.035" stroke-width="2" filter="url(#b1)"/>
<line x1="166.2" y1="37.3" x2="168.8" y2="44.8" stroke="#fff" stroke-opacity="0.17" stroke-width="1.6" filter="url(#b08)"/>
<line x1="161.6" y1="38.3" x2="162.6" y2="46.3" stroke="#fff" stroke-opacity="0.07" stroke-width="1.6" filter="url(#b08)"/>
<line x1="171.6" y1="36.3" x2="178.6" y2="50.3" stroke="#fff" stroke-opacity="0.06" stroke-width="2" filter="url(#b1)"/>
<line x1="177.6" y1="32.3" x2="189.6" y2="49.3" stroke="#fff" stroke-opacity="0.035" stroke-width="2" filter="url(#b1)"/>
<g filter="url(#b08)"><path d="M158.6,57 162.33,63.43 163.71,69.85 164.65,76.28 165.34,82.7 165.85,89.13 166.23,95.56 166.5,101.98 166.68,108.41 166.77,114.83 166.8,121.26 166.8,145.74 166.47,152.17 165.94,158.59 165.28,165.02 164.53,171.44 163.69,177.87 162.79,184.3 161.82,190.72 160.8,197.15 159.72,203.57 158.6,210 L158.6,210 157.48,203.57 156.4,197.15 155.38,190.72 154.41,184.3 153.51,177.87 152.67,171.44 151.92,165.02 151.26,158.59 150.73,152.17 150.4,145.74 150.4,121.26 150.43,114.83 150.52,108.41 150.7,101.98 150.97,95.56 151.35,89.13 151.86,82.7 152.55,76.28 153.49,69.85 154.87,63.43 158.6,57Z" fill="#1a1a1a"/>
<path d="M158.6,58.5 162.13,64.64 163.43,70.77 164.31,76.91 164.97,83.04 165.45,89.18 165.82,95.32 166.07,101.45 166.24,107.59 166.33,113.73 166.35,119.86 166.35,143.24 166.04,149.37 165.54,155.51 164.91,161.65 164.2,167.78 163.41,173.92 162.56,180.06 161.65,186.19 160.68,192.33 159.66,198.46 158.6,204.6 L158.6,204.6 157.54,198.46 156.52,192.33 155.55,186.19 154.64,180.06 153.79,173.92 153,167.78 152.29,161.65 151.66,155.51 151.16,149.37 150.85,143.24 150.85,119.86 150.87,113.73 150.96,107.59 151.13,101.45 151.38,95.32 151.75,89.18 152.23,83.04 152.89,76.91 153.77,70.77 155.07,64.64 158.6,58.5Z" fill="#212121"/>
<path d="M158.6,59.75 161.96,65.64 163.2,71.54 164.05,77.43 164.67,83.33 165.13,89.22 165.48,95.12 165.72,101.01 165.88,106.91 165.96,112.8 165.98,118.7 165.98,141.15 165.69,147.05 165.21,152.94 164.62,158.84 163.94,164.73 163.19,170.63 162.37,176.52 161.5,182.42 160.58,188.31 159.61,194.21 158.6,200.1 L158.6,200.1 157.59,194.21 156.62,188.31 155.7,182.42 154.83,176.52 154.01,170.63 153.26,164.73 152.58,158.84 151.99,152.94 151.51,147.05 151.22,141.15 151.22,118.7 151.24,112.8 151.32,106.91 151.48,101.01 151.72,95.12 152.07,89.22 152.53,83.33 153.15,77.43 154,71.54 155.24,65.64 158.6,59.75Z" fill="#292929"/>
<path d="M158.6,60.5 161.87,66.25 163.08,72 163.9,77.75 164.51,83.5 164.96,89.25 165.29,95 165.53,100.75 165.69,106.5 165.77,112.25 165.79,118 165.79,139.9 165.5,145.65 165.03,151.4 164.46,157.15 163.8,162.9 163.07,168.65 162.27,174.4 161.43,180.15 160.53,185.9 159.59,191.65 158.6,197.4 L158.6,197.4 157.61,191.65 156.67,185.9 155.77,180.15 154.93,174.4 154.13,168.65 153.4,162.9 152.74,157.15 152.17,151.4 151.7,145.65 151.41,139.9 151.41,118 151.43,112.25 151.51,106.5 151.67,100.75 151.91,95 152.24,89.25 152.69,83.5 153.3,77.75 154.12,72 155.33,66.25 158.6,60.5Z" fill="#303030"/>
<path d="M158.6,61.25 161.78,66.85 162.96,72.46 163.76,78.06 164.35,83.67 164.79,89.27 165.11,94.88 165.34,100.48 165.49,106.09 165.57,111.69 165.59,117.3 165.59,138.65 165.32,144.26 164.86,149.86 164.3,155.47 163.66,161.07 162.94,166.68 162.17,172.28 161.35,177.89 160.48,183.49 159.56,189.1 158.6,194.7 L158.6,194.7 157.64,189.1 156.72,183.49 155.85,177.89 155.03,172.28 154.26,166.68 153.54,161.07 152.9,155.47 152.34,149.86 151.88,144.26 151.6,138.65 151.6,117.3 151.63,111.69 151.71,106.09 151.86,100.48 152.09,94.88 152.41,89.27 152.85,83.67 153.44,78.06 154.24,72.46 155.42,66.85 158.6,61.25Z" fill="#383838"/>
<path d="M158.6,62 161.69,67.46 162.84,72.92 163.61,78.38 164.19,83.84 164.61,89.3 164.93,94.76 165.16,100.22 165.3,105.68 165.38,111.14 165.4,116.6 165.4,137.4 165.13,142.86 164.69,148.32 164.14,153.78 163.51,159.24 162.82,164.7 162.07,170.16 161.27,175.62 160.42,181.08 159.53,186.54 158.6,192 L158.6,192 157.67,186.54 156.78,181.08 155.93,175.62 155.13,170.16 154.38,164.7 153.69,159.24 153.06,153.78 152.51,148.32 152.07,142.86 151.8,137.4 151.8,116.6 151.82,111.14 151.9,105.68 152.04,100.22 152.27,94.76 152.59,89.3 153.01,83.84 153.59,78.38 154.36,72.92 155.51,67.46 158.6,62Z" fill="#404040"/>
<path d="M158.6,62.56 161.62,67.86 162.73,73.15 163.49,78.45 164.05,83.74 164.47,89.04 164.77,94.33 164.99,99.62 165.13,104.92 165.21,110.21 165.23,115.51 165.23,135.68 164.97,140.97 164.53,146.27 164,151.56 163.39,156.86 162.72,162.15 161.99,167.45 161.21,172.74 160.38,178.04 159.51,183.33 158.6,188.62 L158.6,188.62 157.69,183.33 156.82,178.04 155.99,172.74 155.21,167.45 154.48,162.15 153.81,156.86 153.2,151.56 152.67,146.27 152.23,140.97 151.97,135.68 151.97,115.51 151.99,110.21 152.07,104.92 152.21,99.62 152.43,94.33 152.73,89.04 153.15,83.74 153.71,78.45 154.47,73.15 155.58,67.86 158.6,62.56Z" fill="#474747"/>
<path d="M158.6,63.12 161.54,68.25 162.63,73.38 163.37,78.51 163.91,83.64 164.32,88.77 164.62,93.9 164.83,99.03 164.97,104.16 165.04,109.29 165.06,114.42 165.06,133.96 164.81,139.09 164.38,144.22 163.86,149.35 163.27,154.47 162.61,159.6 161.9,164.73 161.14,169.86 160.33,174.99 159.49,180.12 158.6,185.25 L158.6,185.25 157.71,180.12 156.87,174.99 156.06,169.86 155.3,164.73 154.59,159.6 153.93,154.47 153.34,149.35 152.82,144.22 152.39,139.09 152.14,133.96 152.14,114.42 152.16,109.29 152.23,104.16 152.37,99.03 152.58,93.9 152.88,88.77 153.29,83.64 153.83,78.51 154.57,73.38 155.66,68.25 158.6,63.12Z" fill="#4f4f4f"/>
<path d="M158.6,63.78 161.46,68.73 162.52,73.69 163.24,78.65 163.77,83.6 164.16,88.56 164.46,93.51 164.66,98.47 164.8,103.43 164.87,108.38 164.89,113.34 164.89,132.22 164.64,137.17 164.23,142.13 163.72,147.09 163.15,152.04 162.51,157 161.81,161.95 161.07,166.91 160.29,171.87 159.46,176.82 158.6,181.78 L158.6,181.78 157.74,176.82 156.91,171.87 156.13,166.91 155.39,161.95 154.69,157 154.05,152.04 153.48,147.09 152.97,142.13 152.56,137.17 152.31,132.22 152.31,113.34 152.33,108.38 152.4,103.43 152.54,98.47 152.74,93.51 153.04,88.56 153.43,83.6 153.96,78.65 154.68,73.69 155.74,68.73 158.6,63.78Z" fill="#575757"/>
<path d="M158.6,64.61 161.38,69.38 162.4,74.15 163.1,78.91 163.62,83.68 164,88.45 164.28,93.21 164.49,97.98 164.62,102.75 164.69,107.51 164.71,112.28 164.71,130.44 164.46,135.21 164.06,139.98 163.57,144.74 163.01,149.51 162.39,154.28 161.72,159.04 161,163.81 160.24,168.58 159.44,173.34 158.6,178.11 L158.6,178.11 157.76,173.34 156.96,168.58 156.2,163.81 155.48,159.04 154.81,154.28 154.19,149.51 153.63,144.74 153.14,139.98 152.74,135.21 152.49,130.44 152.49,112.28 152.51,107.51 152.58,102.75 152.71,97.98 152.92,93.21 153.2,88.45 153.58,83.68 154.1,78.91 154.8,74.15 155.82,69.38 158.6,64.61Z" fill="#5e5e5e"/>
<path d="M158.6,65.44 161.29,70.02 162.29,74.6 162.97,79.18 163.47,83.76 163.84,88.33 164.11,92.91 164.31,97.49 164.44,102.07 164.5,106.65 164.52,111.22 164.52,128.66 164.29,133.24 163.9,137.82 163.42,142.4 162.88,146.98 162.28,151.55 161.63,156.13 160.93,160.71 160.19,165.29 159.41,169.87 158.6,174.44 L158.6,174.44 157.79,169.87 157.01,165.29 156.27,160.71 155.57,156.13 154.92,151.55 154.32,146.98 153.78,142.4 153.3,137.82 152.91,133.24 152.68,128.66 152.68,111.22 152.7,106.65 152.76,102.07 152.89,97.49 153.09,92.91 153.36,88.33 153.73,83.76 154.23,79.18 154.91,74.6 155.91,70.02 158.6,65.44Z" fill="#666666"/>
<path d="M158.6,66.31 161.2,70.71 162.17,75.11 162.82,79.5 163.3,83.9 163.66,88.3 163.93,92.69 164.12,97.09 164.24,101.49 164.31,105.88 164.32,110.28 164.32,127.03 164.1,131.43 163.72,135.82 163.26,140.22 162.74,144.62 162.16,149.02 161.52,153.41 160.85,157.81 160.14,162.21 159.39,166.6 158.6,171 L158.6,171 157.81,166.6 157.06,162.21 156.35,157.81 155.68,153.41 155.04,149.02 154.46,144.62 153.94,140.22 153.48,135.82 153.1,131.43 152.88,127.03 152.88,110.28 152.89,105.88 152.96,101.49 153.08,97.09 153.27,92.69 153.54,88.3 153.9,83.9 154.38,79.5 155.03,75.11 156,70.71 158.6,66.31Z" fill="#6e6e6e"/>
<path d="M158.6,67.25 161.1,71.48 162.03,75.71 162.66,79.94 163.12,84.18 163.46,88.41 163.72,92.64 163.9,96.87 164.02,101.1 164.08,105.33 164.1,109.56 164.1,125.69 163.88,129.92 163.52,134.15 163.08,138.38 162.58,142.61 162.02,146.84 161.41,151.07 160.76,155.31 160.08,159.54 159.35,163.77 158.6,168 L158.6,168 157.85,163.77 157.12,159.54 156.44,155.31 155.79,151.07 155.18,146.84 154.62,142.61 154.12,138.38 153.68,134.15 153.32,129.92 153.1,125.69 153.1,109.56 153.12,105.33 153.18,101.1 153.3,96.87 153.48,92.64 153.74,88.41 154.08,84.18 154.54,79.94 155.17,75.71 156.1,71.48 158.6,67.25Z" fill="#757575"/>
<path d="M158.6,68.19 161,72.25 161.89,76.32 162.49,80.39 162.93,84.45 163.27,88.52 163.51,92.58 163.69,96.65 163.8,100.72 163.86,104.78 163.88,108.85 163.88,124.34 163.66,128.4 163.32,132.47 162.9,136.54 162.41,140.6 161.88,144.67 161.29,148.74 160.67,152.8 160.02,156.87 159.32,160.93 158.6,165 L158.6,165 157.88,160.93 157.18,156.87 156.53,152.8 155.91,148.74 155.32,144.67 154.79,140.6 154.3,136.54 153.88,132.47 153.54,128.4 153.32,124.34 153.32,108.85 153.34,104.78 153.4,100.72 153.51,96.65 153.69,92.58 153.93,88.52 154.27,84.45 154.71,80.39 155.31,76.32 156.2,72.25 158.6,68.19Z" fill="#7d7d7d"/>
<path d="M158.6,69.73 160.89,73.61 161.74,77.49 162.31,81.37 162.74,85.25 163.05,89.13 163.29,93 163.45,96.88 163.56,100.76 163.62,104.64 163.64,108.52 163.64,123.3 163.44,127.17 163.11,131.05 162.7,134.93 162.24,138.81 161.73,142.69 161.17,146.57 160.58,150.45 159.95,154.32 159.29,158.2 158.6,162.08 L158.6,162.08 157.91,158.2 157.25,154.32 156.62,150.45 156.03,146.57 155.47,142.69 154.96,138.81 154.5,134.93 154.09,131.05 153.76,127.17 153.56,123.3 153.56,108.52 153.58,104.64 153.64,100.76 153.75,96.88 153.91,93 154.15,89.13 154.46,85.25 154.89,81.37 155.46,77.49 156.31,73.61 158.6,69.73Z" fill="#858585"/>
<path d="M158.6,71.58 160.78,75.26 161.58,78.94 162.13,82.62 162.53,86.3 162.84,89.98 163.06,93.66 163.22,97.34 163.32,101.02 163.37,104.7 163.39,108.38 163.39,122.4 163.2,126.08 162.89,129.76 162.5,133.44 162.06,137.12 161.57,140.8 161.05,144.48 160.48,148.16 159.88,151.85 159.26,155.53 158.6,159.21 L158.6,159.21 157.94,155.53 157.32,151.85 156.72,148.16 156.15,144.48 155.63,140.8 155.14,137.12 154.7,133.44 154.31,129.76 154,126.08 153.81,122.4 153.81,108.38 153.83,104.7 153.88,101.02 153.98,97.34 154.14,93.66 154.36,89.98 154.67,86.3 155.07,82.62 155.62,78.94 156.42,75.26 158.6,71.58Z" fill="#8c8c8c"/>
<path d="M158.6,73.37 160.67,76.86 161.43,80.35 161.96,83.84 162.34,87.34 162.63,90.83 162.84,94.32 162.99,97.81 163.08,101.3 163.14,104.8 163.15,108.29 163.15,121.59 162.97,125.08 162.67,128.57 162.31,132.07 161.89,135.56 161.43,139.05 160.92,142.54 160.39,146.03 159.82,149.52 159.22,153.02 158.6,156.51 L158.6,156.51 157.98,153.02 157.38,149.52 156.81,146.03 156.28,142.54 155.77,139.05 155.31,135.56 154.89,132.07 154.53,128.57 154.23,125.08 154.05,121.59 154.05,108.29 154.06,104.8 154.12,101.3 154.21,97.81 154.36,94.32 154.57,90.83 154.86,87.34 155.24,83.84 155.77,80.35 156.53,76.86 158.6,73.37Z" fill="#949494"/>
<path d="M158.6,74.95 160.57,78.28 161.3,81.62 161.8,84.96 162.17,88.3 162.44,91.63 162.64,94.97 162.78,98.31 162.88,101.64 162.93,104.98 162.94,108.32 162.94,121.03 162.77,124.37 162.48,127.71 162.14,131.04 161.74,134.38 161.3,137.72 160.82,141.05 160.31,144.39 159.76,147.73 159.2,151.07 158.6,154.4 L158.6,154.4 158,151.07 157.44,147.73 156.89,144.39 156.38,141.05 155.9,137.72 155.46,134.38 155.06,131.04 154.72,127.71 154.43,124.37 154.26,121.03 154.26,108.32 154.27,104.98 154.32,101.64 154.42,98.31 154.56,94.97 154.76,91.63 155.03,88.3 155.4,84.96 155.9,81.62 156.63,78.28 158.6,74.95Z" fill="#9c9c9c"/>
<path d="M158.6,76.5 160.47,79.68 161.16,82.86 161.63,86.04 161.97,89.22 162.23,92.4 162.42,95.58 162.56,98.76 162.65,101.94 162.69,105.12 162.71,108.3 162.71,120.42 162.54,123.6 162.27,126.78 161.94,129.96 161.57,133.14 161.15,136.32 160.7,139.5 160.21,142.68 159.7,145.86 159.16,149.04 158.6,152.22 L158.6,152.22 158.04,149.04 157.5,145.86 156.99,142.68 156.5,139.5 156.05,136.32 155.63,133.14 155.26,129.96 154.93,126.78 154.66,123.6 154.49,120.42 154.49,108.3 154.51,105.12 154.55,101.94 154.64,98.76 154.78,95.58 154.97,92.4 155.23,89.22 155.57,86.04 156.04,82.86 156.73,79.68 158.6,76.5Z" fill="#a3a3a3"/>
<path d="M158.6,78 160.34,81.02 160.98,84.04 161.42,87.06 161.74,90.08 161.98,93.1 162.16,96.12 162.28,99.14 162.37,102.15 162.41,105.17 162.42,108.19 162.42,119.7 162.27,122.71 162.02,125.73 161.71,128.75 161.36,131.77 160.97,134.79 160.55,137.81 160.1,140.83 159.63,143.85 159.12,146.87 158.6,149.89 L158.6,149.89 158.08,146.87 157.57,143.85 157.1,140.83 156.65,137.81 156.23,134.79 155.84,131.77 155.49,128.75 155.18,125.73 154.93,122.71 154.78,119.7 154.78,108.19 154.79,105.17 154.83,102.15 154.92,99.14 155.04,96.12 155.22,93.1 155.46,90.08 155.78,87.06 156.22,84.04 156.86,81.02 158.6,78Z" fill="#ababab"/>
<path d="M158.6,79.5 160.21,82.36 160.8,85.22 161.21,88.08 161.51,90.93 161.73,93.79 161.89,96.65 162.01,99.51 162.09,102.37 162.13,105.23 162.14,108.08 162.14,118.97 162,121.83 161.77,124.69 161.48,127.55 161.16,130.41 160.8,133.26 160.41,136.12 159.99,138.98 159.55,141.84 159.09,144.7 158.6,147.56 L158.6,147.56 158.11,144.7 157.65,141.84 157.21,138.98 156.79,136.12 156.4,133.26 156.04,130.41 155.72,127.55 155.43,124.69 155.2,121.83 155.06,118.97 155.06,108.08 155.07,105.23 155.11,102.37 155.19,99.51 155.31,96.65 155.47,93.79 155.69,90.93 155.99,88.08 156.4,85.22 156.99,82.36 158.6,79.5Z" fill="#b2b2b2"/>
<path d="M158.6,81.19 160.09,83.88 160.64,86.58 161.02,89.28 161.3,91.97 161.5,94.67 161.65,97.36 161.76,100.06 161.83,102.75 161.87,105.45 161.88,108.15 161.88,118.42 161.75,121.11 161.54,123.81 161.27,126.5 160.97,129.2 160.64,131.9 160.28,134.59 159.89,137.29 159.48,139.98 159.05,142.68 158.6,145.38 L158.6,145.38 158.15,142.68 157.72,139.98 157.31,137.29 156.92,134.59 156.56,131.9 156.23,129.2 155.93,126.5 155.66,123.81 155.45,121.11 155.32,118.42 155.32,108.15 155.33,105.45 155.37,102.75 155.44,100.06 155.55,97.36 155.7,94.67 155.9,91.97 156.18,89.28 156.56,86.58 157.11,83.88 158.6,81.19Z" fill="#bababa"/>
<path d="M158.6,83.25 160,85.78 160.52,88.31 160.87,90.84 161.13,93.37 161.32,95.9 161.46,98.43 161.56,100.96 161.63,103.49 161.67,106.02 161.67,108.56 161.67,118.19 161.55,120.73 161.35,123.26 161.11,125.79 160.82,128.32 160.51,130.85 160.17,133.38 159.81,135.91 159.43,138.44 159.02,140.97 158.6,143.5 L158.6,143.5 158.18,140.97 157.77,138.44 157.39,135.91 157.03,133.38 156.69,130.85 156.38,128.32 156.09,125.79 155.85,123.26 155.65,120.73 155.53,118.19 155.53,108.56 155.53,106.02 155.57,103.49 155.64,100.96 155.74,98.43 155.88,95.9 156.07,93.37 156.33,90.84 156.68,88.31 157.2,85.78 158.6,83.25Z" fill="#c2c2c2"/>
<path d="M158.6,85.31 159.9,87.68 160.39,90.04 160.72,92.41 160.96,94.77 161.14,97.14 161.27,99.5 161.37,101.87 161.43,104.23 161.46,106.6 161.47,108.96 161.47,117.97 161.35,120.34 161.17,122.7 160.94,125.07 160.67,127.43 160.38,129.8 160.07,132.16 159.73,134.53 159.37,136.89 158.99,139.26 158.6,141.62 L158.6,141.62 158.21,139.26 157.83,136.89 157.47,134.53 157.13,132.16 156.82,129.8 156.53,127.43 156.26,125.07 156.03,122.7 155.85,120.34 155.73,117.97 155.73,108.96 155.74,106.6 155.77,104.23 155.83,101.87 155.93,99.5 156.06,97.14 156.24,94.77 156.48,92.41 156.81,90.04 157.3,87.68 158.6,85.31Z" fill="#c9c9c9"/>
<path d="M158.6,87.14 159.81,89.36 160.25,91.57 160.56,93.78 160.78,96 160.95,98.21 161.07,100.43 161.16,102.64 161.22,104.85 161.25,107.07 161.26,109.28 161.26,117.72 161.15,119.93 160.98,122.15 160.76,124.36 160.52,126.57 160.25,128.79 159.96,131 159.64,133.22 159.31,135.43 158.96,137.64 158.6,139.86 L158.6,139.86 158.24,137.64 157.89,135.43 157.56,133.22 157.24,131 156.95,128.79 156.68,126.57 156.44,124.36 156.22,122.15 156.05,119.93 155.94,117.72 155.94,109.28 155.95,107.07 155.98,104.85 156.04,102.64 156.13,100.43 156.25,98.21 156.42,96 156.64,93.78 156.95,91.57 157.39,89.36 158.6,87.14Z" fill="#d1d1d1"/>
<path d="M158.6,88.86 159.71,90.93 160.12,93 160.4,95.07 160.61,97.14 160.76,99.21 160.87,101.28 160.95,103.35 161.01,105.42 161.04,107.49 161.04,109.56 161.04,117.44 160.95,119.51 160.79,121.58 160.59,123.65 160.37,125.72 160.12,127.79 159.85,129.86 159.56,131.93 159.26,134 158.94,136.07 158.6,138.14 L158.6,138.14 158.26,136.07 157.94,134 157.64,131.93 157.35,129.86 157.08,127.79 156.83,125.72 156.61,123.65 156.41,121.58 156.25,119.51 156.16,117.44 156.16,109.56 156.16,107.49 156.19,105.42 156.25,103.35 156.33,101.28 156.44,99.21 156.59,97.14 156.8,95.07 157.08,93 157.49,90.93 158.6,88.86Z" fill="#d9d9d9"/>
<path d="M158.6,91 159.6,92.87 159.97,94.75 160.22,96.62 160.41,98.5 160.55,100.37 160.65,102.25 160.72,104.12 160.77,105.99 160.79,107.87 160.8,109.74 160.8,116.88 160.71,118.76 160.57,120.63 160.39,122.51 160.19,124.38 159.97,126.25 159.72,128.13 159.46,130 159.19,131.88 158.9,133.75 158.6,135.62 L158.6,135.62 158.3,133.75 158.01,131.88 157.74,130 157.48,128.13 157.23,126.25 157.01,124.38 156.81,122.51 156.63,120.63 156.49,118.76 156.4,116.88 156.4,109.74 156.41,107.87 156.43,105.99 156.48,104.12 156.55,102.25 156.65,100.37 156.79,98.5 156.98,96.62 157.23,94.75 157.6,92.87 158.6,91Z" fill="#e0e0e0"/>
<path d="M158.6,94 159.46,95.58 159.78,97.15 160,98.72 160.16,100.3 160.28,101.88 160.37,103.45 160.43,105.03 160.47,106.6 160.49,108.17 160.5,109.75 160.5,115.75 160.42,117.33 160.3,118.9 160.15,120.47 159.97,122.05 159.78,123.62 159.57,125.2 159.35,126.78 159.11,128.35 158.86,129.93 158.6,131.5 L158.6,131.5 158.34,129.93 158.09,128.35 157.85,126.78 157.63,125.2 157.42,123.62 157.23,122.05 157.05,120.47 156.9,118.9 156.78,117.33 156.7,115.75 156.7,109.75 156.71,108.17 156.73,106.6 156.77,105.03 156.83,103.45 156.92,101.88 157.04,100.3 157.2,98.72 157.42,97.15 157.74,95.58 158.6,94Z" fill="#e8e8e8"/>
<path d="M158.6,97 159.33,98.28 159.6,99.55 159.78,100.83 159.91,102.1 160.02,103.38 160.09,104.65 160.14,105.93 160.18,107.21 160.19,108.48 160.2,109.76 160.2,114.62 160.14,115.89 160.03,117.17 159.9,118.44 159.76,119.72 159.59,121 159.42,122.27 159.23,123.55 159.03,124.82 158.82,126.1 158.6,127.38 L158.6,127.38 158.38,126.1 158.17,124.82 157.97,123.55 157.78,122.27 157.61,121 157.44,119.72 157.3,118.44 157.17,117.17 157.06,115.89 157,114.62 157,109.76 157.01,108.48 157.02,107.21 157.06,105.93 157.11,104.65 157.18,103.38 157.29,102.1 157.42,100.83 157.6,99.55 157.87,98.28 158.6,97Z" fill="#f0f0f0"/>
<path d="M158.6,103 158.92,103.71 159.04,104.43 159.12,105.14 159.18,105.86 159.22,106.57 159.25,107.28 159.27,108 159.29,108.71 159.3,109.43 159.3,110.14 159.3,112.86 159.27,113.57 159.23,114.29 159.17,115 159.11,115.72 159.03,116.43 158.96,117.14 158.88,117.86 158.79,118.57 158.7,119.29 158.6,120 L158.6,120 158.5,119.29 158.41,118.57 158.32,117.86 158.24,117.14 158.17,116.43 158.09,115.72 158.03,115 157.97,114.29 157.93,113.57 157.9,112.86 157.9,110.14 157.9,109.43 157.91,108.71 157.93,108 157.95,107.28 157.98,106.57 158.02,105.86 158.08,105.14 158.16,104.43 158.28,103.71 158.6,103Z" fill="#f7f7f7"/></g>
</g></g>
<clipPath id="cpd"><rect x="344.2" y="21.2" width="76.8" height="164.4"/></clipPath>
<g clip-path="url(#cpd)"><g filter="url(#cm)">
<rect x="339.2" y="16.2" width="86.8" height="174.4" fill="#111111"/>
<rect x="358.4" y="26.2" width="48" height="6" fill="#fff" fill-opacity="0.02" filter="url(#b2)"/>
<rect x="361.4" y="33.7" width="42" height="5" fill="#000" fill-opacity="0.34" filter="url(#b2)"/>
<line x1="362.4" y1="35.7" x2="402.4" y2="35.7" stroke="#000" stroke-opacity="0.31" stroke-width="3" stroke-dasharray="2.2 2.6" filter="url(#b08)"/>
<line x1="360" y1="29.2" x2="406.4" y2="29.2" stroke="#fff" stroke-opacity="0.02" stroke-width="2.5" stroke-dasharray="2.4 2.4" filter="url(#b08)"/>
<rect x="352.9" y="18.2" width="4" height="28" fill="#000" fill-opacity="0.46" filter="url(#b15)"/>
<rect x="406.9" y="18.2" width="4" height="28" fill="#000" fill-opacity="0.46" filter="url(#b15)"/>
<rect x="346.9" y="18.2" width="3" height="30" fill="#fff" fill-opacity="0.03" filter="url(#b15)"/>
<rect x="413.9" y="18.2" width="3" height="30" fill="#fff" fill-opacity="0.03" filter="url(#b15)"/>
<ellipse cx="382.4" cy="50.2" rx="12" ry="11" fill="#fff" fill-opacity="0.04" filter="url(#b3)"/>
<ellipse cx="382.4" cy="57" rx="4" ry="3.5" fill="#000" fill-opacity="0.31" filter="url(#b2)"/>
<line x1="361.4" y1="38" x2="375.4" y2="60" stroke="#000" stroke-opacity="0.49" stroke-width="5.5" filter="url(#b2)"/>
<ellipse cx="352.4" cy="58" rx="7" ry="15" fill="#fff" fill-opacity="0.05" filter="url(#b3)"/>
<line x1="403.4" y1="38" x2="389.4" y2="60" stroke="#000" stroke-opacity="0.49" stroke-width="5.5" filter="url(#b2)"/>
<ellipse cx="412.4" cy="58" rx="7" ry="15" fill="#fff" fill-opacity="0.05" filter="url(#b3)"/>
<path d="M367.4,60Q356.9,119.2 358.4,189.6" fill="none" stroke="#fff" stroke-opacity="0.05" stroke-width="10" filter="url(#b3)"/>
<path d="M370.4,56Q361.15,121.2 362.9,189.6" fill="none" stroke="#fff" stroke-opacity="0.02" stroke-width="3.5" filter="url(#b15)"/>
<path d="M374.9,70Q369.4,120.2 371.9,189.6" fill="none" stroke="#000" stroke-opacity="0.4" stroke-width="4" filter="url(#b2)"/>
<path d="M361.4,52Q351.65,119.2 352.9,189.6" fill="none" stroke="#000" stroke-opacity="0.18" stroke-width="2.5" filter="url(#b15)"/>
<path d="M351.4,48Q343.9,117.2 344.4,189.6" fill="none" stroke="#000" stroke-opacity="0.31" stroke-width="5" filter="url(#b2)"/>
<path d="M397.4,60Q407.9,119.2 406.4,189.6" fill="none" stroke="#fff" stroke-opacity="0.05" stroke-width="10" filter="url(#b3)"/>
<path d="M394.4,56Q403.65,121.2 401.9,189.6" fill="none" stroke="#fff" stroke-opacity="0.02" stroke-width="3.5" filter="url(#b15)"/>
<path d="M389.9,70Q395.4,120.2 392.9,189.6" fill="none" stroke="#000" stroke-opacity="0.4" stroke-width="4" filter="url(#b2)"/>
<path d="M403.4,52Q413.15,119.2 411.9,189.6" fill="none" stroke="#000" stroke-opacity="0.18" stroke-width="2.5" filter="url(#b15)"/>
<path d="M413.4,48Q420.9,117.2 420.4,189.6" fill="none" stroke="#000" stroke-opacity="0.31" stroke-width="5" filter="url(#b2)"/>
<line x1="374.8" y1="39.7" x2="372.2" y2="47.2" stroke="#fff" stroke-opacity="0.17" stroke-width="1.6" filter="url(#b08)"/>
<line x1="379.4" y1="40.7" x2="378.4" y2="48.7" stroke="#fff" stroke-opacity="0.07" stroke-width="1.6" filter="url(#b08)"/>
<line x1="369.4" y1="38.7" x2="362.4" y2="52.7" stroke="#fff" stroke-opacity="0.06" stroke-width="2" filter="url(#b1)"/>
<line x1="363.4" y1="34.7" x2="351.4" y2="51.7" stroke="#fff" stroke-opacity="0.035" stroke-width="2" filter="url(#b1)"/>
<line x1="390" y1="39.7" x2="392.6" y2="47.2" stroke="#fff" stroke-opacity="0.17" stroke-width="1.6" filter="url(#b08)"/>
<line x1="385.4" y1="40.7" x2="386.4" y2="48.7" stroke="#fff" stroke-opacity="0.07" stroke-width="1.6" filter="url(#b08)"/>
<line x1="395.4" y1="38.7" x2="402.4" y2="52.7" stroke="#fff" stroke-opacity="0.06" stroke-width="2" filter="url(#b1)"/>
<line x1="401.4" y1="34.7" x2="413.4" y2="51.7" stroke="#fff" stroke-opacity="0.035" stroke-width="2" filter="url(#b1)"/>
<g filter="url(#b08)"><path d="M382.4,57 386.04,63.26 387.38,69.52 388.3,75.77 388.97,82.03 389.48,88.29 389.85,94.55 390.11,100.81 390.28,107.06 390.37,113.32 390.4,119.58 390.4,143.42 390.08,149.68 389.56,155.94 388.92,162.19 388.18,168.45 387.37,174.71 386.49,180.97 385.54,187.23 384.55,193.48 383.5,199.74 382.4,206 L382.4,206 381.3,199.74 380.25,193.48 379.26,187.23 378.31,180.97 377.43,174.71 376.62,168.45 375.88,162.19 375.24,155.94 374.72,149.68 374.4,143.42 374.4,119.58 374.43,113.32 374.52,107.06 374.69,100.81 374.95,94.55 375.32,88.29 375.83,82.03 376.5,75.77 377.42,69.52 378.76,63.26 382.4,57Z" fill="#1a1a1a"/>
<path d="M382.4,58.48 385.84,64.45 387.11,70.43 387.97,76.4 388.61,82.37 389.08,88.34 389.43,94.31 389.68,100.28 389.85,106.26 389.93,112.23 389.96,118.2 389.96,140.95 389.65,146.92 389.16,152.89 388.56,158.86 387.86,164.84 387.09,170.81 386.26,176.78 385.37,182.75 384.43,188.72 383.44,194.69 382.4,200.67 L382.4,200.67 381.36,194.69 380.37,188.72 379.43,182.75 378.54,176.78 377.71,170.81 376.94,164.84 376.24,158.86 375.64,152.89 375.15,146.92 374.84,140.95 374.84,118.2 374.87,112.23 374.95,106.26 375.12,100.28 375.37,94.31 375.72,88.34 376.19,82.37 376.83,76.4 377.69,70.43 378.96,64.45 382.4,58.48Z" fill="#212121"/>
<path d="M382.4,59.73 385.67,65.47 386.88,71.2 387.7,76.93 388.31,82.67 388.76,88.4 389.09,94.14 389.33,99.87 389.48,105.6 389.57,111.34 389.59,117.07 389.59,138.92 389.3,144.65 388.83,150.39 388.26,156.12 387.6,161.85 386.87,167.59 386.07,173.32 385.23,179.06 384.33,184.79 383.39,190.53 382.4,196.26 L382.4,196.26 381.41,190.53 380.47,184.79 379.57,179.06 378.73,173.32 377.93,167.59 377.2,161.85 376.54,156.12 375.97,150.39 375.5,144.65 375.21,138.92 375.21,117.07 375.23,111.34 375.32,105.6 375.47,99.87 375.71,94.14 376.04,88.4 376.49,82.67 377.1,76.93 377.92,71.2 379.13,65.47 382.4,59.73Z" fill="#292929"/>
<path d="M382.4,60.47 385.58,66.08 386.76,71.68 387.56,77.28 388.15,82.89 388.59,88.49 388.91,94.09 389.15,99.7 389.3,105.3 389.38,110.9 389.4,116.51 389.4,137.85 389.12,143.46 388.66,149.06 388.1,154.66 387.46,160.27 386.75,165.87 385.97,171.47 385.15,177.08 384.28,182.68 383.36,188.29 382.4,193.89 L382.4,193.89 381.44,188.29 380.52,182.68 379.65,177.08 378.83,171.47 378.05,165.87 377.34,160.27 376.7,154.66 376.14,149.06 375.68,143.46 375.4,137.85 375.4,116.51 375.42,110.9 375.5,105.3 375.65,99.7 375.89,94.09 376.21,88.49 376.65,82.89 377.24,77.28 378.04,71.68 379.22,66.08 382.4,60.47Z" fill="#303030"/>
<path d="M382.4,61.21 385.5,66.69 386.64,72.16 387.42,77.63 387.99,83.1 388.42,88.58 388.74,94.05 388.96,99.52 389.11,105 389.18,110.47 389.2,115.94 389.2,136.79 388.93,142.26 388.49,147.74 387.94,153.21 387.32,158.68 386.63,164.15 385.88,169.63 385.07,175.1 384.23,180.57 383.33,186.05 382.4,191.52 L382.4,191.52 381.47,186.05 380.57,180.57 379.73,175.1 378.92,169.63 378.17,164.15 377.48,158.68 376.86,153.21 376.31,147.74 375.87,142.26 375.6,136.79 375.6,115.94 375.62,110.47 375.69,105 375.84,99.52 376.06,94.05 376.38,88.58 376.81,83.1 377.38,77.63 378.16,72.16 379.3,66.69 382.4,61.21Z" fill="#383838"/>
<path d="M382.4,61.95 385.41,67.3 386.52,72.64 387.28,77.98 387.83,83.32 388.25,88.66 388.56,94.01 388.77,99.35 388.92,104.69 388.99,110.03 389.01,115.38 389.01,135.73 388.75,141.07 388.32,146.41 387.79,151.75 387.18,157.1 386.51,162.44 385.78,167.78 385,173.12 384.17,178.46 383.31,183.81 382.4,189.15 L382.4,189.15 381.49,183.81 380.63,178.46 379.8,173.12 379.02,167.78 378.29,162.44 377.62,157.1 377.01,151.75 376.48,146.41 376.05,141.07 375.79,135.73 375.79,115.38 375.81,110.03 375.88,104.69 376.03,99.35 376.24,94.01 376.55,88.66 376.97,83.32 377.52,77.98 378.28,72.64 379.39,67.3 382.4,61.95Z" fill="#3f3f3f"/>
<path d="M382.4,62.69 385.32,67.9 386.4,73.1 387.14,78.3 387.68,83.51 388.08,88.71 388.38,93.91 388.59,99.11 388.73,104.32 388.81,109.52 388.83,114.72 388.83,134.54 388.57,139.74 388.15,144.95 387.64,150.15 387.04,155.35 386.39,160.56 385.68,165.76 384.93,170.96 384.12,176.16 383.28,181.37 382.4,186.57 L382.4,186.57 381.52,181.37 380.68,176.16 379.87,170.96 379.12,165.76 378.41,160.56 377.76,155.35 377.16,150.15 376.65,144.95 376.23,139.74 375.97,134.54 375.97,114.72 375.99,109.52 376.07,104.32 376.21,99.11 376.42,93.91 376.72,88.71 377.12,83.51 377.66,78.3 378.4,73.1 379.48,67.9 382.4,62.69Z" fill="#474747"/>
<path d="M382.4,63.44 385.24,68.5 386.29,73.56 387,78.62 387.53,83.69 387.92,88.75 388.21,93.81 388.42,98.87 388.55,103.94 388.62,109 388.64,114.06 388.64,133.35 388.39,138.41 387.99,143.47 387.48,148.54 386.91,153.6 386.28,158.66 385.59,163.73 384.85,168.79 384.07,173.85 383.26,178.91 382.4,183.98 L382.4,183.98 381.54,178.91 380.73,173.85 379.95,168.79 379.21,163.73 378.52,158.66 377.89,153.6 377.32,148.54 376.81,143.47 376.41,138.41 376.16,133.35 376.16,114.06 376.18,109 376.25,103.94 376.38,98.87 376.59,93.81 376.88,88.75 377.27,83.69 377.8,78.62 378.51,73.56 379.56,68.5 382.4,63.44Z" fill="#4e4e4e"/>
<path d="M382.4,64.23 385.16,69.14 386.17,74.05 386.87,78.96 387.38,83.87 387.76,88.78 388.04,93.69 388.24,98.6 388.37,103.51 388.44,108.42 388.46,113.33 388.46,132.04 388.22,136.95 387.82,141.86 387.33,146.77 386.78,151.68 386.16,156.59 385.49,161.5 384.78,166.41 384.03,171.32 383.23,176.23 382.4,181.14 L382.4,181.14 381.57,176.23 380.77,171.32 380.02,166.41 379.31,161.5 378.64,156.59 378.02,151.68 377.47,146.77 376.98,141.86 376.58,136.95 376.34,132.04 376.34,113.33 376.36,108.42 376.43,103.51 376.56,98.6 376.76,93.69 377.04,88.78 377.42,83.87 377.93,78.96 378.63,74.05 379.64,69.14 382.4,64.23Z" fill="#565656"/>
<path d="M382.4,65.22 385.07,69.94 386.06,74.66 386.73,79.37 387.23,84.09 387.6,88.8 387.87,93.52 388.06,98.24 388.19,102.95 388.26,107.67 388.28,112.39 388.28,130.35 388.04,135.07 387.66,139.79 387.19,144.5 386.65,149.22 386.05,153.94 385.4,158.65 384.71,163.37 383.98,168.09 383.21,172.8 382.4,177.52 L382.4,177.52 381.59,172.8 380.82,168.09 380.09,163.37 379.4,158.65 378.75,153.94 378.15,149.22 377.61,144.5 377.14,139.79 376.76,135.07 376.52,130.35 376.52,112.39 376.54,107.67 376.61,102.95 376.74,98.24 376.93,93.52 377.2,88.8 377.57,84.09 378.07,79.37 378.74,74.66 379.73,69.94 382.4,65.22Z" fill="#5e5e5e"/>
<path d="M382.4,66.21 384.99,70.73 385.95,75.26 386.6,79.78 387.08,84.3 387.44,88.82 387.7,93.35 387.89,97.87 388.01,102.39 388.08,106.92 388.09,111.44 388.09,128.67 387.87,133.19 387.5,137.71 387.04,142.24 386.52,146.76 385.94,151.28 385.31,155.81 384.64,160.33 383.93,164.85 383.18,169.37 382.4,173.9 L382.4,173.9 381.62,169.37 380.87,164.85 380.16,160.33 379.49,155.81 378.86,151.28 378.28,146.76 377.76,142.24 377.3,137.71 376.93,133.19 376.71,128.67 376.71,111.44 376.72,106.92 376.79,102.39 376.91,97.87 377.1,93.35 377.36,88.82 377.72,84.3 378.2,79.78 378.85,75.26 379.81,70.73 382.4,66.21Z" fill="#656565"/>
<path d="M382.4,67.26 384.9,71.59 385.83,75.92 386.46,80.25 386.92,84.58 387.27,88.9 387.52,93.23 387.7,97.56 387.82,101.89 387.88,106.22 387.9,110.55 387.9,127.04 387.68,131.37 387.32,135.7 386.88,140.03 386.38,144.36 385.82,148.69 385.21,153.02 384.56,157.35 383.88,161.68 383.15,166 382.4,170.33 L382.4,170.33 381.65,166 380.92,161.68 380.24,157.35 379.59,153.02 378.98,148.69 378.42,144.36 377.92,140.03 377.48,135.7 377.12,131.37 376.9,127.04 376.9,110.55 376.92,106.22 376.98,101.89 377.1,97.56 377.28,93.23 377.53,88.9 377.88,84.58 378.34,80.25 378.97,75.92 379.9,71.59 382.4,67.26Z" fill="#6d6d6d"/>
<path d="M382.4,68.56 384.79,72.69 385.68,76.82 386.28,80.96 386.72,85.09 387.05,89.23 387.3,93.36 387.47,97.5 387.58,101.63 387.64,105.77 387.66,109.9 387.66,125.65 387.45,129.79 387.11,133.92 386.69,138.06 386.2,142.19 385.67,146.33 385.09,150.46 384.47,154.6 383.81,158.73 383.12,162.87 382.4,167 L382.4,167 381.68,162.87 380.99,158.73 380.33,154.6 379.71,150.46 379.13,146.33 378.6,142.19 378.11,138.06 377.69,133.92 377.35,129.79 377.14,125.65 377.14,109.9 377.16,105.77 377.22,101.63 377.33,97.5 377.5,93.36 377.75,89.23 378.08,85.09 378.52,80.96 379.12,76.82 380.01,72.69 382.4,68.56Z" fill="#747474"/>
<path d="M382.4,69.85 384.68,73.79 385.53,77.73 386.1,81.67 386.52,85.61 386.84,89.55 387.07,93.49 387.24,97.43 387.35,101.37 387.4,105.31 387.42,109.25 387.42,124.26 387.22,128.2 386.89,132.14 386.49,136.09 386.03,140.03 385.52,143.97 384.96,147.91 384.37,151.85 383.75,155.79 383.09,159.73 382.4,163.67 L382.4,163.67 381.71,159.73 381.05,155.79 380.43,151.85 379.84,147.91 379.28,143.97 378.77,140.03 378.31,136.09 377.91,132.14 377.58,128.2 377.38,124.26 377.38,109.25 377.4,105.31 377.45,101.37 377.56,97.43 377.73,93.49 377.96,89.55 378.28,85.61 378.7,81.67 379.27,77.73 380.12,73.79 382.4,69.85Z" fill="#7c7c7c"/>
<path d="M382.4,71.92 384.56,75.64 385.36,79.35 385.91,83.07 386.31,86.78 386.61,90.5 386.83,94.21 386.99,97.93 387.09,101.64 387.14,105.36 387.16,109.07 387.16,123.22 386.97,126.94 386.66,130.66 386.28,134.37 385.84,138.09 385.36,141.8 384.83,145.52 384.27,149.23 383.68,152.95 383.05,156.66 382.4,160.38 L382.4,160.38 381.75,156.66 381.12,152.95 380.53,149.23 379.97,145.52 379.44,141.8 378.96,138.09 378.52,134.37 378.14,130.66 377.83,126.94 377.64,123.22 377.64,109.07 377.66,105.36 377.71,101.64 377.81,97.93 377.97,94.21 378.19,90.5 378.49,86.78 378.89,83.07 379.44,79.35 380.24,75.64 382.4,71.92Z" fill="#838383"/>
<path d="M382.4,74.76 384.43,78.22 385.19,81.68 385.7,85.14 386.08,88.6 386.36,92.06 386.57,95.52 386.71,98.98 386.81,102.44 386.86,105.9 386.87,109.36 386.87,122.53 386.7,125.99 386.4,129.45 386.04,132.91 385.63,136.37 385.18,139.83 384.69,143.29 384.16,146.75 383.6,150.21 383.01,153.67 382.4,157.13 L382.4,157.13 381.79,153.67 381.2,150.21 380.64,146.75 380.11,143.29 379.62,139.83 379.17,136.37 378.76,132.91 378.4,129.45 378.1,125.99 377.93,122.53 377.93,109.36 377.94,105.9 377.99,102.44 378.09,98.98 378.23,95.52 378.44,92.06 378.72,88.6 379.1,85.14 379.61,81.68 380.37,78.22 382.4,74.76Z" fill="#8b8b8b"/>
<path d="M382.4,77.57 384.31,80.77 385.01,83.98 385.49,87.19 385.84,90.39 386.11,93.6 386.3,96.81 386.44,100.02 386.53,103.22 386.58,106.43 386.59,109.64 386.59,121.85 386.43,125.06 386.15,128.27 385.82,131.48 385.43,134.68 385,137.89 384.54,141.1 384.05,144.3 383.52,147.51 382.97,150.72 382.4,153.92 L382.4,153.92 381.83,150.72 381.28,147.51 380.75,144.3 380.26,141.1 379.8,137.89 379.37,134.68 378.98,131.48 378.65,128.27 378.37,125.06 378.21,121.85 378.21,109.64 378.22,106.43 378.27,103.22 378.36,100.02 378.5,96.81 378.69,93.6 378.96,90.39 379.31,87.19 379.79,83.98 380.49,80.77 382.4,77.57Z" fill="#929292"/>
<path d="M382.4,79.39 384.21,82.43 384.88,85.47 385.34,88.52 385.67,91.56 385.92,94.6 386.11,97.65 386.24,100.69 386.33,103.73 386.37,106.78 386.38,109.82 386.38,121.41 386.23,124.46 385.97,127.5 385.65,130.54 385.28,133.59 384.87,136.63 384.44,139.67 383.97,142.72 383.47,145.76 382.95,148.8 382.4,151.85 L382.4,151.85 381.85,148.8 381.33,145.76 380.83,142.72 380.36,139.67 379.93,136.63 379.52,133.59 379.15,130.54 378.83,127.5 378.57,124.46 378.42,121.41 378.42,109.82 378.43,106.78 378.47,103.73 378.56,100.69 378.69,97.65 378.88,94.6 379.13,91.56 379.46,88.52 379.92,85.47 380.59,82.43 382.4,79.39Z" fill="#9a9a9a"/>
<path d="M382.4,81.24 384.11,84.12 384.75,86.99 385.18,89.87 385.5,92.75 385.73,95.63 385.91,98.5 386.03,101.38 386.11,104.26 386.16,107.13 386.17,110.01 386.17,120.97 386.02,123.85 385.77,126.72 385.47,129.6 385.12,132.48 384.74,135.36 384.33,138.23 383.88,141.11 383.41,143.99 382.92,146.86 382.4,149.74 L382.4,149.74 381.88,146.86 381.39,143.99 380.92,141.11 380.47,138.23 380.06,135.36 379.68,132.48 379.33,129.6 379.03,126.72 378.78,123.85 378.63,120.97 378.63,110.01 378.64,107.13 378.69,104.26 378.77,101.38 378.89,98.5 379.07,95.63 379.3,92.75 379.62,89.87 380.05,86.99 380.69,84.12 382.4,81.24Z" fill="#a2a2a2"/>
<path d="M382.4,83.38 383.99,86.07 384.57,88.76 384.97,91.45 385.27,94.14 385.49,96.83 385.65,99.52 385.76,102.21 385.84,104.9 385.88,107.59 385.89,110.28 385.89,120.53 385.75,123.22 385.52,125.91 385.24,128.6 384.92,131.29 384.57,133.98 384.18,136.67 383.77,139.37 383.34,142.06 382.88,144.75 382.4,147.44 L382.4,147.44 381.92,144.75 381.46,142.06 381.03,139.37 380.62,136.67 380.23,133.98 379.88,131.29 379.56,128.6 379.28,125.91 379.05,123.22 378.91,120.53 378.91,110.28 378.92,107.59 378.96,104.9 379.04,102.21 379.15,99.52 379.31,96.83 379.53,94.14 379.83,91.45 380.23,88.76 380.81,86.07 382.4,83.38Z" fill="#a9a9a9"/>
<path d="M382.4,85.52 383.86,88.02 384.4,90.53 384.77,93.03 385.04,95.54 385.24,98.04 385.39,100.54 385.49,103.05 385.56,105.55 385.6,108.05 385.61,110.56 385.61,120.1 385.48,122.6 385.27,125.1 385.01,127.61 384.72,130.11 384.39,132.61 384.04,135.12 383.66,137.62 383.26,140.12 382.84,142.63 382.4,145.13 L382.4,145.13 381.96,142.63 381.54,140.12 381.14,137.62 380.76,135.12 380.41,132.61 380.08,130.11 379.79,127.61 379.53,125.1 379.32,122.6 379.19,120.1 379.19,110.56 379.2,108.05 379.24,105.55 379.31,103.05 379.41,100.54 379.56,98.04 379.76,95.54 380.03,93.03 380.4,90.53 380.94,88.02 382.4,85.52Z" fill="#b1b1b1"/>
<path d="M382.4,87.68 383.73,90 384.22,92.32 384.56,94.64 384.8,96.96 384.99,99.27 385.12,101.59 385.22,103.91 385.28,106.23 385.32,108.55 385.33,110.87 385.33,119.7 385.21,122.02 385.02,124.34 384.78,126.66 384.52,128.98 384.22,131.3 383.9,133.61 383.55,135.93 383.19,138.25 382.8,140.57 382.4,142.89 L382.4,142.89 382,140.57 381.61,138.25 381.25,135.93 380.9,133.61 380.58,131.3 380.28,128.98 380.02,126.66 379.78,124.34 379.59,122.02 379.47,119.7 379.47,110.87 379.48,108.55 379.52,106.23 379.58,103.91 379.68,101.59 379.81,99.27 380,96.96 380.24,94.64 380.58,92.32 381.07,90 382.4,87.68Z" fill="#b8b8b8"/>
<path d="M382.4,90.09 383.59,92.24 384.03,94.4 384.33,96.55 384.55,98.71 384.71,100.87 384.83,103.02 384.92,105.18 384.97,107.33 385,109.49 385.01,111.64 385.01,119.85 384.91,122.01 384.74,124.16 384.53,126.32 384.29,128.47 384.02,130.63 383.73,132.79 383.43,134.94 383.1,137.1 382.76,139.25 382.4,141.41 L382.4,141.41 382.04,139.25 381.7,137.1 381.37,134.94 381.07,132.79 380.78,130.63 380.51,128.47 380.27,126.32 380.06,124.16 379.89,122.01 379.79,119.85 379.79,111.64 379.8,109.49 379.83,107.33 379.88,105.18 379.97,103.02 380.09,100.87 380.25,98.71 380.47,96.55 380.77,94.4 381.21,92.24 382.4,90.09Z" fill="#c0c0c0"/>
<path d="M382.4,92.5 383.44,94.49 383.83,96.48 384.09,98.47 384.29,100.46 384.43,102.46 384.54,104.45 384.61,106.44 384.66,108.43 384.69,110.42 384.7,112.42 384.7,120.01 384.61,122 384.46,123.99 384.27,125.98 384.06,127.97 383.83,129.97 383.57,131.96 383.3,133.95 383.02,135.94 382.71,137.93 382.4,139.93 L382.4,139.93 382.09,137.93 381.78,135.94 381.5,133.95 381.23,131.96 380.97,129.97 380.74,127.97 380.53,125.98 380.34,123.99 380.19,122 380.1,120.01 380.1,112.42 380.11,110.42 380.14,108.43 380.19,106.44 380.26,104.45 380.37,102.46 380.51,100.46 380.71,98.47 380.97,96.48 381.36,94.49 382.4,92.5Z" fill="#c7c7c7"/>
<path d="M382.4,94.79 383.3,96.62 383.63,98.44 383.86,100.26 384.03,102.09 384.15,103.91 384.24,105.73 384.31,107.56 384.35,109.38 384.37,111.2 384.38,113.03 384.38,119.97 384.3,121.8 384.17,123.62 384.01,125.44 383.83,127.27 383.63,129.09 383.41,130.91 383.18,132.74 382.93,134.56 382.67,136.38 382.4,138.21 L382.4,138.21 382.13,136.38 381.87,134.56 381.62,132.74 381.39,130.91 381.17,129.09 380.97,127.27 380.79,125.44 380.63,123.62 380.5,121.8 380.42,119.97 380.42,113.03 380.43,111.2 380.45,109.38 380.49,107.56 380.56,105.73 380.65,103.91 380.77,102.09 380.94,100.26 381.17,98.44 381.5,96.62 382.4,94.79Z" fill="#cfcfcf"/>
<path d="M382.4,96.91 383.16,98.56 383.44,100.2 383.63,101.85 383.77,103.49 383.87,105.14 383.95,106.78 384,108.43 384.04,110.07 384.06,111.72 384.06,113.37 384.06,119.63 384,121.28 383.89,122.93 383.76,124.57 383.6,126.22 383.43,127.86 383.25,129.51 383.05,131.15 382.85,132.8 382.63,134.44 382.4,136.09 L382.4,136.09 382.17,134.44 381.95,132.8 381.75,131.15 381.55,129.51 381.37,127.86 381.2,126.22 381.04,124.57 380.91,122.93 380.8,121.28 380.74,119.63 380.74,113.37 380.74,111.72 380.76,110.07 380.8,108.43 380.85,106.78 380.93,105.14 381.03,103.49 381.17,101.85 381.36,100.2 381.64,98.56 382.4,96.91Z" fill="#d6d6d6"/>
<path d="M382.4,99.06 383.01,100.53 383.24,101.99 383.39,103.45 383.5,104.92 383.59,106.38 383.65,107.84 383.69,109.31 383.72,110.77 383.74,112.24 383.74,113.7 383.74,119.28 383.69,120.74 383.6,122.2 383.49,123.67 383.37,125.13 383.23,126.59 383.08,128.06 382.93,129.52 382.76,130.99 382.58,132.45 382.4,133.91 L382.4,133.91 382.22,132.45 382.04,130.99 381.87,129.52 381.72,128.06 381.57,126.59 381.43,125.13 381.31,123.67 381.2,122.2 381.11,120.74 381.06,119.28 381.06,113.7 381.06,112.24 381.08,110.77 381.11,109.31 381.15,107.84 381.21,106.38 381.3,104.92 381.41,103.45 381.56,101.99 381.79,100.53 382.4,99.06Z" fill="#dedede"/>
<path d="M382.4,104 382.67,104.97 382.77,105.93 382.84,106.9 382.89,107.86 382.93,108.83 382.96,109.8 382.98,110.76 382.99,111.73 383,112.69 383,113.66 383,117.34 382.98,118.31 382.94,119.27 382.89,120.24 382.83,121.2 382.77,122.17 382.71,123.14 382.64,124.1 382.56,125.07 382.48,126.03 382.4,127 L382.4,127 382.32,126.03 382.24,125.07 382.16,124.1 382.09,123.14 382.03,122.17 381.97,121.2 381.91,120.24 381.86,119.27 381.82,118.31 381.8,117.34 381.8,113.66 381.8,112.69 381.81,111.73 381.82,110.76 381.84,109.8 381.87,108.83 381.91,107.86 381.96,106.9 382.03,105.93 382.13,104.97 382.4,104Z" fill="#e6e6e6"/></g>
</g></g>
<clipPath id="cpe"><rect x="442.3" y="21.2" width="76.5" height="167.1"/></clipPath>
<g clip-path="url(#cpe)"><g filter="url(#cm)">
<rect x="437.3" y="16.2" width="86.5" height="177.1" fill="#111111"/>
<rect x="456.4" y="26.2" width="48" height="6" fill="#fff" fill-opacity="0.02" filter="url(#b2)"/>
<rect x="459.4" y="33.7" width="42" height="5" fill="#000" fill-opacity="0.34" filter="url(#b2)"/>
<line x1="460.4" y1="35.7" x2="500.4" y2="35.7" stroke="#000" stroke-opacity="0.31" stroke-width="3" stroke-dasharray="2.2 2.6" filter="url(#b08)"/>
<line x1="458" y1="29.2" x2="504.4" y2="29.2" stroke="#fff" stroke-opacity="0.02" stroke-width="2.5" stroke-dasharray="2.4 2.4" filter="url(#b08)"/>
<rect x="450.9" y="18.2" width="4" height="28" fill="#000" fill-opacity="0.46" filter="url(#b15)"/>
<rect x="504.9" y="18.2" width="4" height="28" fill="#000" fill-opacity="0.46" filter="url(#b15)"/>
<rect x="444.9" y="18.2" width="3" height="30" fill="#fff" fill-opacity="0.03" filter="url(#b15)"/>
<rect x="511.9" y="18.2" width="3" height="30" fill="#fff" fill-opacity="0.03" filter="url(#b15)"/>
<ellipse cx="480.4" cy="50.2" rx="12" ry="11" fill="#fff" fill-opacity="0.04" filter="url(#b3)"/>
<ellipse cx="480.4" cy="62.5" rx="4" ry="3.5" fill="#000" fill-opacity="0.31" filter="url(#b2)"/>
<line x1="459.4" y1="43.5" x2="473.4" y2="65.5" stroke="#000" stroke-opacity="0.49" stroke-width="5.5" filter="url(#b2)"/>
<ellipse cx="450.4" cy="63.5" rx="7" ry="15" fill="#fff" fill-opacity="0.05" filter="url(#b3)"/>
<line x1="501.4" y1="43.5" x2="487.4" y2="65.5" stroke="#000" stroke-opacity="0.49" stroke-width="5.5" filter="url(#b2)"/>
<ellipse cx="510.4" cy="63.5" rx="7" ry="15" fill="#fff" fill-opacity="0.05" filter="url(#b3)"/>
<path d="M465.4,65.5Q454.9,115.1 456.4,192.3" fill="none" stroke="#fff" stroke-opacity="0.05" stroke-width="10" filter="url(#b3)"/>
<path d="M468.4,61.5Q459.15,117.1 460.9,192.3" fill="none" stroke="#fff" stroke-opacity="0.02" stroke-width="3.5" filter="url(#b15)"/>
<path d="M472.9,75.5Q467.4,116.1 469.9,192.3" fill="none" stroke="#000" stroke-opacity="0.4" stroke-width="4" filter="url(#b2)"/>
<path d="M459.4,57.5Q449.65,115.1 450.9,192.3" fill="none" stroke="#000" stroke-opacity="0.18" stroke-width="2.5" filter="url(#b15)"/>
<path d="M449.4,53.5Q441.9,113.1 442.4,192.3" fill="none" stroke="#000" stroke-opacity="0.31" stroke-width="5" filter="url(#b2)"/>
<path d="M495.4,65.5Q505.9,115.1 504.4,192.3" fill="none" stroke="#fff" stroke-opacity="0.05" stroke-width="10" filter="url(#b3)"/>
<path d="M492.4,61.5Q501.65,117.1 499.9,192.3" fill="none" stroke="#fff" stroke-opacity="0.02" stroke-width="3.5" filter="url(#b15)"/>
<path d="M487.9,75.5Q493.4,116.1 490.9,192.3" fill="none" stroke="#000" stroke-opacity="0.4" stroke-width="4" filter="url(#b2)"/>
<path d="M501.4,57.5Q511.15,115.1 509.9,192.3" fill="none" stroke="#000" stroke-opacity="0.18" stroke-width="2.5" filter="url(#b15)"/>
<path d="M511.4,53.5Q518.9,113.1 518.4,192.3" fill="none" stroke="#000" stroke-opacity="0.31" stroke-width="5" filter="url(#b2)"/>
<line x1="472.8" y1="39.7" x2="470.2" y2="47.2" stroke="#fff" stroke-opacity="0.17" stroke-width="1.6" filter="url(#b08)"/>
<line x1="477.4" y1="40.7" x2="476.4" y2="48.7" stroke="#fff" stroke-opacity="0.07" stroke-width="1.6" filter="url(#b08)"/>
<line x1="467.4" y1="38.7" x2="460.4" y2="52.7" stroke="#fff" stroke-opacity="0.06" stroke-width="2" filter="url(#b1)"/>
<line x1="461.4" y1="34.7" x2="449.4" y2="51.7" stroke="#fff" stroke-opacity="0.035" stroke-width="2" filter="url(#b1)"/>
<line x1="488" y1="39.7" x2="490.6" y2="47.2" stroke="#fff" stroke-opacity="0.17" stroke-width="1.6" filter="url(#b08)"/>
<line x1="483.4" y1="40.7" x2="484.4" y2="48.7" stroke="#fff" stroke-opacity="0.07" stroke-width="1.6" filter="url(#b08)"/>
<line x1="493.4" y1="38.7" x2="500.4" y2="52.7" stroke="#fff" stroke-opacity="0.06" stroke-width="2" filter="url(#b1)"/>
<line x1="499.4" y1="34.7" x2="511.4" y2="51.7" stroke="#fff" stroke-opacity="0.035" stroke-width="2" filter="url(#b1)"/>
<g filter="url(#b08)"><path d="M480.4,62 483.63,67.54 484.82,73.09 485.64,78.63 486.23,84.18 486.68,89.72 487.01,95.26 487.24,100.81 487.4,106.35 487.48,111.9 487.5,117.44 487.5,138.56 487.22,144.1 486.75,149.65 486.18,155.19 485.53,160.74 484.81,166.28 484.03,171.82 483.19,177.37 482.31,182.91 481.37,188.46 480.4,194 L480.4,194 479.43,188.46 478.49,182.91 477.61,177.37 476.77,171.82 475.99,166.28 475.27,160.74 474.62,155.19 474.05,149.65 473.58,144.1 473.3,138.56 473.3,117.44 473.32,111.9 473.4,106.35 473.56,100.81 473.79,95.26 474.12,89.72 474.57,84.18 475.16,78.63 475.98,73.09 477.17,67.54 480.4,62Z" fill="#1a1a1a"/>
<path d="M480.4,63.8 483.41,68.97 484.52,74.13 485.28,79.3 485.84,84.46 486.26,89.63 486.56,94.8 486.78,99.96 486.92,105.13 487,110.29 487.02,115.46 487.02,135.14 486.76,140.31 486.32,145.47 485.79,150.64 485.18,155.8 484.51,160.97 483.78,166.14 483,171.3 482.18,176.47 481.31,181.63 480.4,186.8 L480.4,186.8 479.49,181.63 478.62,176.47 477.8,171.3 477.02,166.14 476.29,160.97 475.62,155.8 475.01,150.64 474.48,145.47 474.04,140.31 473.78,135.14 473.78,115.46 473.8,110.29 473.88,105.13 474.02,99.96 474.24,94.8 474.54,89.63 474.96,84.46 475.52,79.3 476.28,74.13 477.39,68.97 480.4,63.8Z" fill="#212121"/>
<path d="M480.4,65.25 483.24,70.11 484.28,74.97 485,79.83 485.52,84.7 485.91,89.56 486.2,94.42 486.41,99.28 486.54,104.14 486.62,109 486.63,113.86 486.63,132.38 486.39,137.25 485.98,142.11 485.48,146.97 484.91,151.83 484.27,156.69 483.59,161.55 482.85,166.42 482.07,171.28 481.26,176.14 480.4,181 L480.4,181 479.54,176.14 478.73,171.28 477.95,166.42 477.21,161.55 476.53,156.69 475.89,151.83 475.32,146.97 474.82,142.11 474.41,137.25 474.16,132.38 474.16,113.86 474.18,109 474.26,104.14 474.39,99.28 474.6,94.42 474.89,89.56 475.28,84.7 475.8,79.83 476.52,74.97 477.56,70.11 480.4,65.25Z" fill="#292929"/>
<path d="M480.4,66 483.15,70.7 484.16,75.41 484.85,80.11 485.36,84.82 485.74,89.52 486.02,94.22 486.22,98.93 486.35,103.63 486.42,108.34 486.44,113.04 486.44,130.96 486.2,135.66 485.81,140.37 485.32,145.07 484.77,149.78 484.15,154.48 483.49,159.18 482.77,163.89 482.02,168.59 481.23,173.3 480.4,178 L480.4,178 479.57,173.3 478.78,168.59 478.03,163.89 477.31,159.18 476.65,154.48 476.03,149.78 475.48,145.07 474.99,140.37 474.6,135.66 474.36,130.96 474.36,113.04 474.38,108.34 474.45,103.63 474.58,98.93 474.78,94.22 475.06,89.52 475.44,84.82 475.95,80.11 476.64,75.41 477.65,70.7 480.4,66Z" fill="#303030"/>
<path d="M480.4,66.75 483.06,71.3 484.04,75.84 484.71,80.39 485.2,84.94 485.57,89.48 485.84,94.03 486.03,98.58 486.16,103.12 486.23,107.67 486.25,112.22 486.25,129.53 486.01,134.08 485.63,138.63 485.16,143.17 484.62,147.72 484.03,152.27 483.39,156.81 482.7,161.36 481.97,165.91 481.2,170.45 480.4,175 L480.4,175 479.6,170.45 478.83,165.91 478.1,161.36 477.41,156.81 476.77,152.27 476.18,147.72 475.64,143.17 475.17,138.63 474.79,134.08 474.55,129.53 474.55,112.22 474.57,107.67 474.64,103.12 474.77,98.58 474.96,94.03 475.23,89.48 475.6,84.94 476.09,80.39 476.76,75.84 477.74,71.3 480.4,66.75Z" fill="#383838"/>
<path d="M480.4,67.5 482.97,71.89 483.92,76.28 484.57,80.67 485.04,85.06 485.4,89.44 485.66,93.83 485.85,98.22 485.97,102.61 486.03,107 486.05,111.39 486.05,128.11 485.83,132.5 485.46,136.89 485,141.28 484.48,145.67 483.91,150.06 483.29,154.44 482.62,158.83 481.92,163.22 481.17,167.61 480.4,172 L480.4,172 479.63,167.61 478.88,163.22 478.18,158.83 477.51,154.44 476.89,150.06 476.32,145.67 475.8,141.28 475.34,136.89 474.97,132.5 474.75,128.11 474.75,111.39 474.77,107 474.83,102.61 474.95,98.22 475.14,93.83 475.4,89.44 475.76,85.06 476.23,80.67 476.88,76.28 477.83,71.89 480.4,67.5Z" fill="#404040"/>
<path d="M480.4,68.25 482.88,72.51 483.8,76.78 484.43,81.04 484.89,85.3 485.23,89.56 485.49,93.83 485.67,98.09 485.78,102.35 485.85,106.62 485.86,110.88 485.86,127.12 485.65,131.38 485.29,135.65 484.85,139.91 484.35,144.17 483.79,148.44 483.19,152.7 482.55,156.96 481.87,161.22 481.15,165.49 480.4,169.75 L480.4,169.75 479.65,165.49 478.93,161.22 478.25,156.96 477.61,152.7 477.01,148.44 476.45,144.17 475.95,139.91 475.51,135.65 475.15,131.38 474.94,127.12 474.94,110.88 474.95,106.62 475.02,102.35 475.13,98.09 475.31,93.83 475.57,89.56 475.91,85.3 476.37,81.04 477,76.78 477.92,72.51 480.4,68.25Z" fill="#474747"/>
<path d="M480.4,69 482.8,73.14 483.69,77.27 484.29,81.41 484.73,85.55 485.07,89.69 485.31,93.82 485.49,97.96 485.6,102.1 485.66,106.23 485.67,110.37 485.67,126.13 485.46,130.27 485.12,134.4 484.7,138.54 484.21,142.68 483.68,146.81 483.09,150.95 482.47,155.09 481.82,159.23 481.12,163.36 480.4,167.5 L480.4,167.5 479.68,163.36 478.98,159.23 478.33,155.09 477.71,150.95 477.12,146.81 476.59,142.68 476.1,138.54 475.68,134.4 475.34,130.27 475.12,126.13 475.12,110.37 475.14,106.23 475.2,102.1 475.31,97.96 475.49,93.82 475.73,89.69 476.07,85.55 476.51,81.41 477.11,77.27 478,73.14 480.4,69Z" fill="#4f4f4f"/>
<path d="M480.4,70.67 482.7,74.63 483.55,78.59 484.13,82.55 484.56,86.51 484.88,90.48 485.11,94.44 485.28,98.4 485.39,102.36 485.45,106.32 485.46,110.29 485.46,125.38 485.26,129.34 484.93,133.3 484.52,137.27 484.06,141.23 483.54,145.19 482.99,149.15 482.39,153.11 481.76,157.08 481.09,161.04 480.4,165 L480.4,165 479.71,161.04 479.04,157.08 478.41,153.11 477.81,149.15 477.26,145.19 476.74,141.23 476.28,137.27 475.87,133.3 475.54,129.34 475.34,125.38 475.34,110.29 475.35,106.32 475.41,102.36 475.52,98.4 475.69,94.44 475.92,90.48 476.24,86.51 476.67,82.55 477.25,78.59 478.1,74.63 480.4,70.67Z" fill="#575757"/>
<path d="M480.4,74.17 482.58,77.86 483.39,81.54 483.94,85.23 484.34,88.92 484.64,92.61 484.86,96.3 485.02,99.99 485.12,103.68 485.18,107.37 485.19,111.06 485.19,125.11 485,128.8 484.69,132.49 484.31,136.18 483.87,139.87 483.38,143.56 482.85,147.24 482.28,150.93 481.69,154.62 481.06,158.31 480.4,162 L480.4,162 479.74,158.31 479.11,154.62 478.52,150.93 477.95,147.24 477.42,143.56 476.93,139.87 476.49,136.18 476.11,132.49 475.8,128.8 475.61,125.11 475.61,111.06 475.62,107.37 475.68,103.68 475.78,99.99 475.94,96.3 476.16,92.61 476.46,88.92 476.86,85.23 477.41,81.54 478.22,77.86 480.4,74.17Z" fill="#5e5e5e"/>
<path d="M480.4,77.67 482.46,81.08 483.22,84.5 483.74,87.91 484.12,91.33 484.4,94.75 484.62,98.16 484.76,101.58 484.86,104.99 484.91,108.41 484.93,111.83 484.93,124.84 484.75,128.26 484.45,131.67 484.09,135.09 483.67,138.5 483.21,141.92 482.71,145.34 482.18,148.75 481.61,152.17 481.02,155.58 480.4,159 L480.4,159 479.78,155.58 479.19,152.17 478.62,148.75 478.09,145.34 477.59,141.92 477.13,138.5 476.71,135.09 476.35,131.67 476.05,128.26 475.87,124.84 475.87,111.83 475.89,108.41 475.94,104.99 476.04,101.58 476.18,98.16 476.4,94.75 476.68,91.33 477.06,87.91 477.58,84.5 478.34,81.08 480.4,77.67Z" fill="#666666"/>
<path d="M480.4,81 482.34,84.15 483.06,87.3 483.55,90.45 483.91,93.6 484.18,96.75 484.37,99.9 484.51,103.05 484.61,106.2 484.66,109.35 484.67,112.5 484.67,124.5 484.5,127.65 484.22,130.8 483.88,133.95 483.49,137.1 483.05,140.25 482.58,143.4 482.08,146.55 481.55,149.7 480.99,152.85 480.4,156 L480.4,156 479.81,152.85 479.25,149.7 478.72,146.55 478.22,143.4 477.75,140.25 477.31,137.1 476.92,133.95 476.58,130.8 476.3,127.65 476.13,124.5 476.13,112.5 476.14,109.35 476.19,106.2 476.29,103.05 476.43,99.9 476.62,96.75 476.89,93.6 477.25,90.45 477.74,87.3 478.46,84.15 480.4,81Z" fill="#6e6e6e"/>
<path d="M480.4,84 482.23,86.9 482.91,89.8 483.37,92.69 483.71,95.59 483.96,98.49 484.15,101.39 484.28,104.29 484.37,107.18 484.41,110.08 484.42,112.98 484.42,124.02 484.26,126.92 484,129.82 483.68,132.71 483.31,135.61 482.9,138.51 482.46,141.41 481.98,144.31 481.48,147.2 480.95,150.1 480.4,153 L480.4,153 479.85,150.1 479.32,147.2 478.82,144.31 478.34,141.41 477.9,138.51 477.49,135.61 477.12,132.71 476.8,129.82 476.54,126.92 476.38,124.02 476.38,112.98 476.39,110.08 476.43,107.18 476.52,104.29 476.65,101.39 476.84,98.49 477.09,95.59 477.43,92.69 477.89,89.8 478.57,86.9 480.4,84Z" fill="#757575"/>
<path d="M480.4,87 482.12,89.65 482.76,92.29 483.19,94.94 483.51,97.58 483.74,100.23 483.92,102.88 484.05,105.52 484.13,108.17 484.17,110.81 484.18,113.46 484.18,123.54 484.03,126.19 483.78,128.83 483.48,131.48 483.13,134.12 482.75,136.77 482.33,139.42 481.89,142.06 481.41,144.71 480.92,147.35 480.4,150 L480.4,150 479.88,147.35 479.39,144.71 478.91,142.06 478.47,139.42 478.05,136.77 477.67,134.12 477.32,131.48 477.02,128.83 476.77,126.19 476.62,123.54 476.62,113.46 476.63,110.81 476.67,108.17 476.75,105.52 476.88,102.88 477.06,100.23 477.29,97.58 477.61,94.94 478.04,92.29 478.68,89.65 480.4,87Z" fill="#7d7d7d"/>
<path d="M480.4,90.47 481.99,92.83 482.58,95.2 482.98,97.56 483.27,99.93 483.49,102.3 483.65,104.66 483.77,107.03 483.84,109.4 483.88,111.76 483.89,114.13 483.89,123.14 483.76,125.51 483.53,127.88 483.25,130.24 482.93,132.61 482.57,134.98 482.19,137.34 481.77,139.71 481.34,142.08 480.88,144.44 480.4,146.81 L480.4,146.81 479.92,144.44 479.46,142.08 479.03,139.71 478.61,137.34 478.23,134.98 477.87,132.61 477.55,130.24 477.27,127.88 477.04,125.51 476.91,123.14 476.91,114.13 476.92,111.76 476.96,109.4 477.03,107.03 477.15,104.66 477.31,102.3 477.53,99.93 477.82,97.56 478.22,95.2 478.81,92.83 480.4,90.47Z" fill="#858585"/>
<path d="M480.4,94.16 481.85,96.24 482.38,98.31 482.75,100.38 483.02,102.46 483.22,104.53 483.37,106.6 483.47,108.68 483.54,110.75 483.58,112.82 483.59,114.89 483.59,122.79 483.46,124.86 483.25,126.94 483,129.01 482.7,131.08 482.38,133.16 482.03,135.23 481.65,137.3 481.25,139.37 480.84,141.45 480.4,143.52 L480.4,143.52 479.96,141.45 479.55,139.37 479.15,137.3 478.77,135.23 478.42,133.16 478.1,131.08 477.8,129.01 477.55,126.94 477.34,124.86 477.21,122.79 477.21,114.89 477.22,112.82 477.26,110.75 477.33,108.68 477.43,106.6 477.58,104.53 477.78,102.46 478.05,100.38 478.42,98.31 478.95,96.24 480.4,94.16Z" fill="#8c8c8c"/>
<path d="M480.4,97.61 481.71,99.42 482.2,101.22 482.53,103.02 482.77,104.82 482.95,106.62 483.08,108.42 483.18,110.23 483.24,112.03 483.27,113.83 483.28,115.63 483.28,122.49 483.17,124.29 482.98,126.1 482.75,127.9 482.48,129.7 482.19,131.5 481.87,133.3 481.53,135.1 481.17,136.91 480.8,138.71 480.4,140.51 L480.4,140.51 480,138.71 479.63,136.91 479.27,135.1 478.93,133.3 478.61,131.5 478.32,129.7 478.05,127.9 477.82,126.1 477.63,124.29 477.52,122.49 477.52,115.63 477.53,113.83 477.56,112.03 477.62,110.23 477.72,108.42 477.85,106.62 478.03,104.82 478.27,103.02 478.6,101.22 479.09,99.42 480.4,97.61Z" fill="#949494"/>
<path d="M480.4,100.25 481.58,101.85 482.02,103.45 482.31,105.05 482.53,106.66 482.69,108.26 482.81,109.86 482.9,111.46 482.96,113.07 482.98,114.67 482.99,116.27 482.99,122.38 482.89,123.98 482.72,125.58 482.51,127.19 482.27,128.79 482.01,130.39 481.72,131.99 481.42,133.6 481.1,135.2 480.76,136.8 480.4,138.4 L480.4,138.4 480.04,136.8 479.7,135.2 479.38,133.6 479.08,131.99 478.79,130.39 478.53,128.79 478.29,127.19 478.08,125.58 477.91,123.98 477.81,122.38 477.81,116.27 477.82,114.67 477.84,113.07 477.9,111.46 477.99,109.86 478.11,108.26 478.27,106.66 478.49,105.05 478.78,103.45 479.22,101.85 480.4,100.25Z" fill="#9c9c9c"/>
<path d="M480.4,103.14 481.4,104.52 481.77,105.89 482.02,107.26 482.21,108.64 482.35,110.01 482.45,111.39 482.52,112.76 482.57,114.13 482.59,115.51 482.6,116.88 482.6,122.12 482.51,123.49 482.37,124.87 482.19,126.24 481.99,127.61 481.77,128.99 481.52,130.36 481.26,131.74 480.99,133.11 480.7,134.48 480.4,135.86 L480.4,135.86 480.1,134.48 479.81,133.11 479.54,131.74 479.28,130.36 479.03,128.99 478.81,127.61 478.61,126.24 478.43,124.87 478.29,123.49 478.2,122.12 478.2,116.88 478.21,115.51 478.23,114.13 478.28,112.76 478.35,111.39 478.45,110.01 478.59,108.64 478.78,107.26 479.03,105.89 479.4,104.52 480.4,103.14Z" fill="#a3a3a3"/>
<path d="M480.4,106.57 481.13,107.66 481.4,108.74 481.58,109.83 481.71,110.92 481.82,112 481.89,113.09 481.94,114.17 481.98,115.26 481.99,116.35 482,117.43 482,121.57 481.94,122.65 481.83,123.74 481.7,124.83 481.56,125.91 481.39,127 481.22,128.08 481.03,129.17 480.83,130.26 480.62,131.34 480.4,132.43 L480.4,132.43 480.18,131.34 479.97,130.26 479.77,129.17 479.58,128.08 479.41,127 479.24,125.91 479.1,124.83 478.97,123.74 478.86,122.65 478.8,121.57 478.8,117.43 478.81,116.35 478.82,115.26 478.86,114.17 478.91,113.09 478.98,112 479.09,110.92 479.22,109.83 479.4,108.74 479.67,107.66 480.4,106.57Z" fill="#ababab"/>
<path d="M480.4,110 480.85,110.8 481.02,111.6 481.14,112.39 481.22,113.19 481.28,113.99 481.33,114.79 481.36,115.59 481.39,116.38 481.4,117.18 481.4,117.98 481.4,121.02 481.36,121.82 481.29,122.62 481.21,123.41 481.12,124.21 481.02,125.01 480.91,125.81 480.79,126.61 480.67,127.4 480.54,128.2 480.4,129 L480.4,129 480.26,128.2 480.13,127.4 480.01,126.61 479.89,125.81 479.78,125.01 479.68,124.21 479.59,123.41 479.51,122.62 479.44,121.82 479.4,121.02 479.4,117.98 479.4,117.18 479.41,116.38 479.44,115.59 479.47,114.79 479.52,113.99 479.58,113.19 479.66,112.39 479.78,111.6 479.95,110.8 480.4,110Z" fill="#b2b2b2"/>
<path d="M480.4,113 480.58,113.46 480.65,113.92 480.69,114.39 480.73,114.85 480.75,115.31 480.77,115.77 480.79,116.23 480.79,116.7 480.8,117.16 480.8,117.62 480.8,119.38 480.78,119.84 480.76,120.3 480.73,120.77 480.69,121.23 480.65,121.69 480.6,122.15 480.56,122.61 480.51,123.08 480.45,123.54 480.4,124 L480.4,124 480.35,123.54 480.29,123.08 480.24,122.61 480.2,122.15 480.15,121.69 480.11,121.23 480.07,120.77 480.04,120.3 480.02,119.84 480,119.38 480,117.62 480,117.16 480.01,116.7 480.01,116.23 480.03,115.77 480.05,115.31 480.07,114.85 480.11,114.39 480.15,113.92 480.22,113.46 480.4,113Z" fill="#bababa"/></g>
</g></g>
<line x1="22.4" y1="121.5" x2="98.8" y2="121.5" stroke="#fff" stroke-opacity="0.72" stroke-width="1.2" stroke-dasharray="3 3"/>
<line x1="120.3" y1="114.7" x2="197.6" y2="114.7" stroke="#fff" stroke-opacity="0.72" stroke-width="1.2" stroke-dasharray="3 3"/>
<clipPath id="cpf"><rect x="20.9" y="220.7" width="76.2" height="76.3"/></clipPath>
<g clip-path="url(#cpf)"><g filter="url(#cm)">
<rect x="15.9" y="215.7" width="86.2" height="86.3" fill="#111111"/>
<circle cx="58.9" cy="258.9" r="24" fill="#fff" fill-opacity="0.02" filter="url(#b4)"/>
<circle cx="58.9" cy="258.9" r="11.5" fill="none" stroke="#000" stroke-opacity="0.58" stroke-width="5.5" filter="url(#b2)"/>
<circle cx="46.9" cy="250.4" r="3.6" fill="#000" fill-opacity="0.52" filter="url(#b2)"/>
<circle cx="70.9" cy="250.4" r="3.6" fill="#000" fill-opacity="0.52" filter="url(#b2)"/>
<circle cx="46.9" cy="267.4" r="3.6" fill="#000" fill-opacity="0.52" filter="url(#b2)"/>
<circle cx="70.9" cy="267.4" r="3.6" fill="#000" fill-opacity="0.52" filter="url(#b2)"/>
<circle cx="34.9" cy="258.9" r="3.2" fill="#000" fill-opacity="0.31" filter="url(#b2)"/>
<circle cx="82.9" cy="258.9" r="3.2" fill="#000" fill-opacity="0.31" filter="url(#b2)"/>
<circle cx="58.9" cy="233.9" r="3.2" fill="#000" fill-opacity="0.31" filter="url(#b2)"/>
<circle cx="58.9" cy="283.9" r="3.2" fill="#000" fill-opacity="0.31" filter="url(#b2)"/>
<circle cx="46.9" cy="227.9" r="3.2" fill="#000" fill-opacity="0.31" filter="url(#b2)"/>
<circle cx="70.9" cy="227.9" r="3.2" fill="#000" fill-opacity="0.31" filter="url(#b2)"/>
<circle cx="46.9" cy="289.9" r="3.2" fill="#000" fill-opacity="0.31" filter="url(#b2)"/>
<circle cx="70.9" cy="289.9" r="3.2" fill="#000" fill-opacity="0.31" filter="url(#b2)"/>
<circle cx="25.9" cy="247.9" r="3.2" fill="#000" fill-opacity="0.31" filter="url(#b2)"/>
<circle cx="91.9" cy="247.9" r="3.2" fill="#000" fill-opacity="0.31" filter="url(#b2)"/>
<circle cx="25.9" cy="269.9" r="3.2" fill="#000" fill-opacity="0.31" filter="url(#b2)"/>
<circle cx="91.9" cy="269.9" r="3.2" fill="#000" fill-opacity="0.31" filter="url(#b2)"/>
<circle cx="58.9" cy="242.9" r="3.6" fill="#fff" fill-opacity="0.04" filter="url(#b2)"/>
<circle cx="58.9" cy="274.9" r="3.6" fill="#fff" fill-opacity="0.04" filter="url(#b2)"/>
<circle cx="40.9" cy="258.9" r="3.6" fill="#fff" fill-opacity="0.04" filter="url(#b2)"/>
<circle cx="76.9" cy="258.9" r="3.6" fill="#fff" fill-opacity="0.04" filter="url(#b2)"/>
<circle cx="36.9" cy="238.9" r="3.6" fill="#fff" fill-opacity="0.04" filter="url(#b2)"/>
<circle cx="80.9" cy="238.9" r="3.6" fill="#fff" fill-opacity="0.04" filter="url(#b2)"/>
<circle cx="36.9" cy="278.9" r="3.6" fill="#fff" fill-opacity="0.04" filter="url(#b2)"/>
<circle cx="80.9" cy="278.9" r="3.6" fill="#fff" fill-opacity="0.04" filter="url(#b2)"/>
<circle cx="58.9" cy="224.9" r="3.6" fill="#fff" fill-opacity="0.04" filter="url(#b2)"/>
<circle cx="58.9" cy="292.9" r="3.6" fill="#fff" fill-opacity="0.04" filter="url(#b2)"/>
<circle cx="23.9" cy="258.9" r="3.6" fill="#fff" fill-opacity="0.04" filter="url(#b2)"/>
<circle cx="93.9" cy="258.9" r="3.6" fill="#fff" fill-opacity="0.04" filter="url(#b2)"/>
<g filter="url(#b05)"><circle cx="58.9" cy="258.9" r="7.8" fill="#1c1c1c"/><circle cx="58.9" cy="258.9" r="7.53" fill="#242424"/><circle cx="58.9" cy="258.9" r="7.25" fill="#2c2c2c"/><circle cx="58.9" cy="258.9" r="6.98" fill="#343434"/><circle cx="58.9" cy="258.9" r="6.77" fill="#3b3b3b"/><circle cx="58.9" cy="258.9" r="6.56" fill="#434343"/><circle cx="58.9" cy="258.9" r="6.34" fill="#4b4b4b"/><circle cx="58.9" cy="258.9" r="6.13" fill="#535353"/><circle cx="58.9" cy="258.9" r="5.91" fill="#5b5b5b"/><circle cx="58.9" cy="258.9" r="5.69" fill="#636363"/><circle cx="58.9" cy="258.9" r="5.47" fill="#6b6b6b"/><circle cx="58.9" cy="258.9" r="5.25" fill="#727272"/><circle cx="58.9" cy="258.9" r="5.02" fill="#7a7a7a"/><circle cx="58.9" cy="258.9" r="4.76" fill="#828282"/><circle cx="58.9" cy="258.9" r="4.5" fill="#8a8a8a"/><circle cx="58.9" cy="258.9" r="4.24" fill="#929292"/><circle cx="58.9" cy="258.9" r="3.97" fill="#9a9a9a"/><circle cx="58.9" cy="258.9" r="3.64" fill="#a2a2a2"/><circle cx="58.9" cy="258.9" r="3.3" fill="#a9a9a9"/><circle cx="58.9" cy="258.9" r="2.97" fill="#b1b1b1"/><circle cx="58.9" cy="258.9" r="2.64" fill="#b9b9b9"/><circle cx="58.9" cy="258.9" r="2.33" fill="#c1c1c1"/><circle cx="58.9" cy="258.9" r="2.02" fill="#c9c9c9"/><circle cx="58.9" cy="258.9" r="1.72" fill="#d1d1d1"/><circle cx="58.9" cy="258.9" r="1.41" fill="#d9d9d9"/><circle cx="58.9" cy="258.9" r="0.6" fill="#e0e0e0"/></g>
</g></g>
<clipPath id="cpg"><rect x="119.3" y="220.7" width="76.2" height="76.3"/></clipPath>
<g clip-path="url(#cpg)"><g filter="url(#cm)">
<rect x="114.3" y="215.7" width="86.2" height="86.3" fill="#111111"/>
<circle cx="157.3" cy="258.6" r="24" fill="#fff" fill-opacity="0.03" filter="url(#b4)"/>
<circle cx="157.3" cy="258.6" r="11.5" fill="none" stroke="#000" stroke-opacity="0.74" stroke-width="5.5" filter="url(#b2)"/>
<circle cx="145.3" cy="250.1" r="3.6" fill="#000" fill-opacity="0.68" filter="url(#b2)"/>
<circle cx="169.3" cy="250.1" r="3.6" fill="#000" fill-opacity="0.68" filter="url(#b2)"/>
<circle cx="145.3" cy="267.1" r="3.6" fill="#000" fill-opacity="0.68" filter="url(#b2)"/>
<circle cx="169.3" cy="267.1" r="3.6" fill="#000" fill-opacity="0.68" filter="url(#b2)"/>
<circle cx="133.3" cy="258.6" r="3.2" fill="#000" fill-opacity="0.41" filter="url(#b2)"/>
<circle cx="181.3" cy="258.6" r="3.2" fill="#000" fill-opacity="0.41" filter="url(#b2)"/>
<circle cx="157.3" cy="233.6" r="3.2" fill="#000" fill-opacity="0.41" filter="url(#b2)"/>
<circle cx="157.3" cy="283.6" r="3.2" fill="#000" fill-opacity="0.41" filter="url(#b2)"/>
<circle cx="145.3" cy="227.6" r="3.2" fill="#000" fill-opacity="0.41" filter="url(#b2)"/>
<circle cx="169.3" cy="227.6" r="3.2" fill="#000" fill-opacity="0.41" filter="url(#b2)"/>
<circle cx="145.3" cy="289.6" r="3.2" fill="#000" fill-opacity="0.41" filter="url(#b2)"/>
<circle cx="169.3" cy="289.6" r="3.2" fill="#000" fill-opacity="0.41" filter="url(#b2)"/>
<circle cx="124.3" cy="247.6" r="3.2" fill="#000" fill-opacity="0.41" filter="url(#b2)"/>
<circle cx="190.3" cy="247.6" r="3.2" fill="#000" fill-opacity="0.41" filter="url(#b2)"/>
<circle cx="124.3" cy="269.6" r="3.2" fill="#000" fill-opacity="0.41" filter="url(#b2)"/>
<circle cx="190.3" cy="269.6" r="3.2" fill="#000" fill-opacity="0.41" filter="url(#b2)"/>
<circle cx="157.3" cy="242.6" r="3.6" fill="#fff" fill-opacity="0.05" filter="url(#b2)"/>
<circle cx="157.3" cy="274.6" r="3.6" fill="#fff" fill-opacity="0.05" filter="url(#b2)"/>
<circle cx="139.3" cy="258.6" r="3.6" fill="#fff" fill-opacity="0.05" filter="url(#b2)"/>
<circle cx="175.3" cy="258.6" r="3.6" fill="#fff" fill-opacity="0.05" filter="url(#b2)"/>
<circle cx="135.3" cy="238.6" r="3.6" fill="#fff" fill-opacity="0.05" filter="url(#b2)"/>
<circle cx="179.3" cy="238.6" r="3.6" fill="#fff" fill-opacity="0.05" filter="url(#b2)"/>
<circle cx="135.3" cy="278.6" r="3.6" fill="#fff" fill-opacity="0.05" filter="url(#b2)"/>
<circle cx="179.3" cy="278.6" r="3.6" fill="#fff" fill-opacity="0.05" filter="url(#b2)"/>
<circle cx="157.3" cy="224.6" r="3.6" fill="#fff" fill-opacity="0.05" filter="url(#b2)"/>
<circle cx="157.3" cy="292.6" r="3.6" fill="#fff" fill-opacity="0.05" filter="url(#b2)"/>
<circle cx="122.3" cy="258.6" r="3.6" fill="#fff" fill-opacity="0.05" filter="url(#b2)"/>
<circle cx="192.3" cy="258.6" r="3.6" fill="#fff" fill-opacity="0.05" filter="url(#b2)"/>
<g filter="url(#b05)"><circle cx="157.3" cy="258.6" r="8.4" fill="#1c1c1c"/><circle cx="157.3" cy="258.6" r="8.1" fill="#242424"/><circle cx="157.3" cy="258.6" r="7.79" fill="#2c2c2c"/><circle cx="157.3" cy="258.6" r="7.49" fill="#333333"/><circle cx="157.3" cy="258.6" r="7.28" fill="#3b3b3b"/><circle cx="157.3" cy="258.6" r="7.07" fill="#434343"/><circle cx="157.3" cy="258.6" r="6.86" fill="#4a4a4a"/><circle cx="157.3" cy="258.6" r="6.65" fill="#525252"/><circle cx="157.3" cy="258.6" r="6.44" fill="#5a5a5a"/><circle cx="157.3" cy="258.6" r="6.22" fill="#626262"/><circle cx="157.3" cy="258.6" r="6" fill="#696969"/><circle cx="157.3" cy="258.6" r="5.79" fill="#717171"/><circle cx="157.3" cy="258.6" r="5.56" fill="#797979"/><circle cx="157.3" cy="258.6" r="5.31" fill="#818181"/><circle cx="157.3" cy="258.6" r="5.05" fill="#888888"/><circle cx="157.3" cy="258.6" r="4.79" fill="#909090"/><circle cx="157.3" cy="258.6" r="4.54" fill="#989898"/><circle cx="157.3" cy="258.6" r="4.24" fill="#a0a0a0"/><circle cx="157.3" cy="258.6" r="3.94" fill="#a7a7a7"/><circle cx="157.3" cy="258.6" r="3.63" fill="#afafaf"/><circle cx="157.3" cy="258.6" r="3.33" fill="#b7b7b7"/><circle cx="157.3" cy="258.6" r="3.09" fill="#bfbfbf"/><circle cx="157.3" cy="258.6" r="2.87" fill="#c6c6c6"/><circle cx="157.3" cy="258.6" r="2.63" fill="#cecece"/><circle cx="157.3" cy="258.6" r="2.39" fill="#d6d6d6"/><circle cx="157.3" cy="258.6" r="2.15" fill="#dedede"/><circle cx="157.3" cy="258.6" r="1.91" fill="#e5e5e5"/><circle cx="157.3" cy="258.6" r="1.46" fill="#ededed"/><circle cx="157.3" cy="258.6" r="1" fill="#f5f5f5"/></g>
</g></g>
<rect x="73.7" y="331" width="69.9" height="9.1" fill="url(#cbar)"/>
<text x="-0.3" y="13" font-size="11.9" fill="#231f20" stroke="#231f20" stroke-width="0.4" textLength="7.8" lengthAdjust="spacingAndGlyphs">a.</text>
<text x="106.7" y="12.6" font-size="11.9" fill="#231f20" stroke="#231f20" stroke-width="0.4" textLength="8.3" lengthAdjust="spacingAndGlyphs">b.</text>
<text x="205.7" y="13.2" font-size="11.9" fill="#231f20" stroke="#231f20" stroke-width="0.4" textLength="6.9" lengthAdjust="spacingAndGlyphs">c.</text>
<text x="317.8" y="13" font-size="11.9" fill="#231f20" stroke="#231f20" stroke-width="0.4" textLength="8.5" lengthAdjust="spacingAndGlyphs">d.</text>
<text x="429.3" y="12.6" font-size="11.9" fill="#231f20" stroke="#231f20" stroke-width="0.4" textLength="8.3" lengthAdjust="spacingAndGlyphs">e.</text>
<text x="2.8" y="221.4" font-size="11.9" fill="#231f20" stroke="#231f20" stroke-width="0.4" textLength="5" lengthAdjust="spacingAndGlyphs">f.</text>
<text x="105" y="222.3" font-size="11.9" fill="#231f20" stroke="#231f20" stroke-width="0.4" textLength="8.9" lengthAdjust="spacingAndGlyphs">g.</text>
<text x="221.2" y="221.6" font-size="11.9" fill="#231f20" stroke="#231f20" stroke-width="0.4" textLength="9.2" lengthAdjust="spacingAndGlyphs">h.</text>
<text x="432.8" y="221.6" font-size="11.9" fill="#231f20" stroke="#231f20" stroke-width="0.4" textLength="3.5" lengthAdjust="spacingAndGlyphs">i.</text>
<text x="23.4" y="12" font-size="9.1" fill="#231f20" stroke="#231f20" stroke-width="0.22" textLength="70.3" lengthAdjust="spacingAndGlyphs">Cylinders, d&gt;20nm</text>
<text x="122.5" y="11.7" font-size="9.1" fill="#231f20" stroke="#231f20" stroke-width="0.22" textLength="74.5" lengthAdjust="spacingAndGlyphs">Cylinders, d&gt;100nm</text>
<text x="231.5" y="12" font-size="9.1" fill="#231f20" stroke="#231f20" stroke-width="0.22" textLength="74.3" lengthAdjust="spacingAndGlyphs">Cylinders, d&gt;100nm</text>
<text x="344.3" y="6.4" font-size="9.1" fill="#231f20" stroke="#231f20" stroke-width="0.22" textLength="76.5" lengthAdjust="spacingAndGlyphs">Cylinders, d&gt;100nm,</text>
<text x="366.7" y="16.5" font-size="9.1" fill="#231f20" stroke="#231f20" stroke-width="0.22" textLength="31.5" lengthAdjust="spacingAndGlyphs">σ=10nm</text>
<text x="443.5" y="6.4" font-size="9.1" fill="#231f20" stroke="#231f20" stroke-width="0.22" textLength="68.8" lengthAdjust="spacingAndGlyphs">Cones, d<tspan font-size="6.4">1</tspan>&gt;100nm,</text>
<text x="460" y="16.7" font-size="9.1" fill="#231f20" stroke="#231f20" stroke-width="0.22" textLength="35.6" lengthAdjust="spacingAndGlyphs">d<tspan font-size="6.4">2</tspan>&gt;60nm</text>
<text x="13.9" y="23.85" font-size="8.8" fill="#231f20" stroke="#231f20" stroke-width="0.12" textLength="3.8" lengthAdjust="spacingAndGlyphs">0</text>
<text x="13.9" y="79.75" font-size="8.8" fill="#231f20" stroke="#231f20" stroke-width="0.12" textLength="3.8" lengthAdjust="spacingAndGlyphs">5</text>
<text x="9.1" y="135.45" font-size="8.8" fill="#231f20" stroke="#231f20" stroke-width="0.12" textLength="8.6" lengthAdjust="spacingAndGlyphs">10</text>
<text x="9.3" y="191.45" font-size="8.8" fill="#231f20" stroke="#231f20" stroke-width="0.12" textLength="8.4" lengthAdjust="spacingAndGlyphs">15</text>
<text x="112.2" y="22.85" font-size="8.8" fill="#231f20" stroke="#231f20" stroke-width="0.12" textLength="3.8" lengthAdjust="spacingAndGlyphs">0</text>
<text x="112.2" y="78.75" font-size="8.8" fill="#231f20" stroke="#231f20" stroke-width="0.12" textLength="3.8" lengthAdjust="spacingAndGlyphs">5</text>
<text x="107.4" y="135.15" font-size="8.8" fill="#231f20" stroke="#231f20" stroke-width="0.12" textLength="8.6" lengthAdjust="spacingAndGlyphs">10</text>
<text x="107.6" y="191.65" font-size="8.8" fill="#231f20" stroke="#231f20" stroke-width="0.12" textLength="8.4" lengthAdjust="spacingAndGlyphs">15</text>
<text x="209" y="26.15" font-size="8.8" fill="#231f20" stroke="#231f20" stroke-width="0.12" textLength="4.2" lengthAdjust="spacingAndGlyphs">0</text>
<text x="209" y="80.35" font-size="8.8" fill="#231f20" stroke="#231f20" stroke-width="0.12" textLength="4.2" lengthAdjust="spacingAndGlyphs">5</text>
<text x="204.6" y="134.35" font-size="8.8" fill="#231f20" stroke="#231f20" stroke-width="0.12" textLength="8.6" lengthAdjust="spacingAndGlyphs">10</text>
<text x="205.2" y="188.85" font-size="8.8" fill="#231f20" stroke="#231f20" stroke-width="0.12" textLength="8" lengthAdjust="spacingAndGlyphs">15</text>
<text x="335.2" y="24.95" font-size="8.8" fill="#231f20" stroke="#231f20" stroke-width="0.12" textLength="3.8" lengthAdjust="spacingAndGlyphs">0</text>
<text x="335.2" y="79.65" font-size="8.8" fill="#231f20" stroke="#231f20" stroke-width="0.12" textLength="3.8" lengthAdjust="spacingAndGlyphs">5</text>
<text x="330.6" y="134.55" font-size="8.8" fill="#231f20" stroke="#231f20" stroke-width="0.12" textLength="8.4" lengthAdjust="spacingAndGlyphs">10</text>
<text x="330.8" y="189.65" font-size="8.8" fill="#231f20" stroke="#231f20" stroke-width="0.12" textLength="8.2" lengthAdjust="spacingAndGlyphs">15</text>
<text x="433.7" y="25.15" font-size="8.8" fill="#231f20" stroke="#231f20" stroke-width="0.12" textLength="3.8" lengthAdjust="spacingAndGlyphs">0</text>
<text x="433.7" y="80.65" font-size="8.8" fill="#231f20" stroke="#231f20" stroke-width="0.12" textLength="3.8" lengthAdjust="spacingAndGlyphs">5</text>
<text x="429.1" y="136.65" font-size="8.8" fill="#231f20" stroke="#231f20" stroke-width="0.12" textLength="8.4" lengthAdjust="spacingAndGlyphs">10</text>
<text x="429.1" y="192.75" font-size="8.8" fill="#231f20" stroke="#231f20" stroke-width="0.12" textLength="8.4" lengthAdjust="spacingAndGlyphs">15</text>
<text x="58.6" y="200.35" font-size="8.8" fill="#231f20" stroke="#231f20" stroke-width="0.12" textLength="4" lengthAdjust="spacingAndGlyphs">0</text>
<text x="84.2" y="200.35" font-size="8.8" fill="#231f20" stroke="#231f20" stroke-width="0.12" textLength="4" lengthAdjust="spacingAndGlyphs">2</text>
<text x="30.2" y="200.35" font-size="8.8" fill="#231f20" stroke="#231f20" stroke-width="0.12" textLength="6.8" lengthAdjust="spacingAndGlyphs">-2</text>
<text x="156.4" y="200.25" font-size="8.8" fill="#231f20" stroke="#231f20" stroke-width="0.12" textLength="4" lengthAdjust="spacingAndGlyphs">0</text>
<text x="181.8" y="200.25" font-size="8.8" fill="#231f20" stroke="#231f20" stroke-width="0.12" textLength="4" lengthAdjust="spacingAndGlyphs">2</text>
<text x="128.2" y="200.25" font-size="8.8" fill="#231f20" stroke="#231f20" stroke-width="0.12" textLength="6.8" lengthAdjust="spacingAndGlyphs">-2</text>
<text x="380.4" y="198.15" font-size="8.8" fill="#231f20" stroke="#231f20" stroke-width="0.12" textLength="4" lengthAdjust="spacingAndGlyphs">0</text>
<text x="405.9" y="198.15" font-size="8.8" fill="#231f20" stroke="#231f20" stroke-width="0.12" textLength="4" lengthAdjust="spacingAndGlyphs">2</text>
<text x="352.1" y="198.15" font-size="8.8" fill="#231f20" stroke="#231f20" stroke-width="0.12" textLength="6.8" lengthAdjust="spacingAndGlyphs">-2</text>
<text x="478.3" y="201.15" font-size="8.8" fill="#231f20" stroke="#231f20" stroke-width="0.12" textLength="4" lengthAdjust="spacingAndGlyphs">0</text>
<text x="503.7" y="201.15" font-size="8.8" fill="#231f20" stroke="#231f20" stroke-width="0.12" textLength="4" lengthAdjust="spacingAndGlyphs">2</text>
<text x="450.1" y="201.15" font-size="8.8" fill="#231f20" stroke="#231f20" stroke-width="0.12" textLength="6.8" lengthAdjust="spacingAndGlyphs">-2</text>
<text x="49" y="207.8" font-size="9.8" fill="#231f20" stroke="#231f20" stroke-width="0.3" textLength="22.6" lengthAdjust="spacingAndGlyphs">x, µm</text>
<text x="147.9" y="208.3" font-size="9.8" fill="#231f20" stroke="#231f20" stroke-width="0.3" textLength="22.6" lengthAdjust="spacingAndGlyphs">x, µm</text>
<text x="372.5" y="208.5" font-size="9.8" fill="#231f20" stroke="#231f20" stroke-width="0.3" textLength="22.8" lengthAdjust="spacingAndGlyphs">x, µm</text>
<text x="467.6" y="209.3" font-size="9.8" fill="#231f20" stroke="#231f20" stroke-width="0.3" textLength="22.7" lengthAdjust="spacingAndGlyphs">x, µm</text>
<text transform="translate(7.1,111) rotate(-90)" font-size="9.8" fill="#231f20" stroke="#231f20" stroke-width="0.22" textLength="21.5" lengthAdjust="spacingAndGlyphs">z, µm</text>
<text x="258.6" y="206.5" font-size="7.6" fill="#231f20" stroke="#231f20" stroke-width="0.22" textLength="9.5" lengthAdjust="spacingAndGlyphs">I/I<tspan font-size="4.5">0</tspan></text>
<text x="214.2" y="197.65" font-size="8.8" fill="#231f20" stroke="#231f20" stroke-width="0.12" textLength="4.4" lengthAdjust="spacingAndGlyphs">0</text>
<text x="232.9" y="197.65" font-size="8.8" fill="#231f20" stroke="#231f20" stroke-width="0.12" textLength="8.6" lengthAdjust="spacingAndGlyphs">15</text>
<text x="12.1" y="237.18" font-size="7.2" fill="#231f20" stroke="#231f20" stroke-width="0.12" textLength="6.2" lengthAdjust="spacingAndGlyphs">-2</text>
<text x="110.4" y="237.18" font-size="7.2" fill="#231f20" stroke="#231f20" stroke-width="0.12" textLength="6.2" lengthAdjust="spacingAndGlyphs">-2</text>
<text x="14.9" y="262.08" font-size="7.2" fill="#231f20" stroke="#231f20" stroke-width="0.12" textLength="3.4" lengthAdjust="spacingAndGlyphs">0</text>
<text x="113.2" y="262.08" font-size="7.2" fill="#231f20" stroke="#231f20" stroke-width="0.12" textLength="3.4" lengthAdjust="spacingAndGlyphs">0</text>
<text x="14.9" y="287.58" font-size="7.2" fill="#231f20" stroke="#231f20" stroke-width="0.12" textLength="3.4" lengthAdjust="spacingAndGlyphs">2</text>
<text x="113.2" y="287.58" font-size="7.2" fill="#231f20" stroke="#231f20" stroke-width="0.12" textLength="3.4" lengthAdjust="spacingAndGlyphs">2</text>
<text x="57.2" y="308.08" font-size="7.2" fill="#231f20" stroke="#231f20" stroke-width="0.12" textLength="3.4" lengthAdjust="spacingAndGlyphs">0</text>
<text x="82.8" y="308.08" font-size="7.2" fill="#231f20" stroke="#231f20" stroke-width="0.12" textLength="3.4" lengthAdjust="spacingAndGlyphs">2</text>
<text x="29.1" y="308.08" font-size="7.2" fill="#231f20" stroke="#231f20" stroke-width="0.12" textLength="6" lengthAdjust="spacingAndGlyphs">-2</text>
<text x="155.5" y="308.08" font-size="7.2" fill="#231f20" stroke="#231f20" stroke-width="0.12" textLength="3.4" lengthAdjust="spacingAndGlyphs">0</text>
<text x="181.1" y="308.08" font-size="7.2" fill="#231f20" stroke="#231f20" stroke-width="0.12" textLength="3.4" lengthAdjust="spacingAndGlyphs">2</text>
<text x="127.4" y="308.08" font-size="7.2" fill="#231f20" stroke="#231f20" stroke-width="0.12" textLength="6" lengthAdjust="spacingAndGlyphs">-2</text>
<text x="49" y="317.6" font-size="9.8" fill="#231f20" stroke="#231f20" stroke-width="0.3" textLength="22.5" lengthAdjust="spacingAndGlyphs">x, µm</text>
<text x="147.5" y="317.6" font-size="9.8" fill="#231f20" stroke="#231f20" stroke-width="0.3" textLength="22.5" lengthAdjust="spacingAndGlyphs">x, µm</text>
<text transform="translate(7.0,273) rotate(-90)" font-size="9.8" fill="#231f20" stroke="#231f20" stroke-width="0.22" textLength="22.5" lengthAdjust="spacingAndGlyphs">y, µm</text>
<text x="27.5" y="229.5" font-size="7.8" fill="#fff" stroke="#fff" stroke-width="0" textLength="64.9" lengthAdjust="spacingAndGlyphs">Best focus, d&gt;20nm</text>
<text x="125" y="229.5" font-size="7.8" fill="#fff" stroke="#fff" stroke-width="0" textLength="68" lengthAdjust="spacingAndGlyphs">Best focus, d&gt;100nm</text>
<text x="53.4" y="49.6" font-size="7.5" fill="#fff" stroke="#fff" stroke-width="0" textLength="35" lengthAdjust="spacingAndGlyphs">λ = 590 nm</text>
<text x="71.9" y="350.73" font-size="6.8" fill="#231f20" stroke="#231f20" stroke-width="0.12" textLength="3.6" lengthAdjust="spacingAndGlyphs">0</text>
<text x="101.2" y="350.73" font-size="6.8" fill="#231f20" stroke="#231f20" stroke-width="0.12" textLength="3.6" lengthAdjust="spacingAndGlyphs">5</text>
<text x="127.8" y="350.73" font-size="6.8" fill="#231f20" stroke="#231f20" stroke-width="0.12" textLength="7.6" lengthAdjust="spacingAndGlyphs">10</text>
<text x="148" y="338.3" font-size="7.2" fill="#231f20" stroke="#231f20" stroke-width="0.22" textLength="9.2" lengthAdjust="spacingAndGlyphs">I/I<tspan font-size="4">0</tspan></text>
<path d="M216.4,21.5V184.2H320.3" fill="none" stroke="#a9a9a9" stroke-width="0.7"/>
<path d="M237.2,184.2v-1.2 M258,184.2v-1.2 M278.8,184.2v-1.2 M299.6,184.2v-1.2 M320.4,184.2v-1.2 M216.4,21.9h1.2 M216.4,76h1.2 M216.4,130.1h1.2" stroke="#a9a9a9" stroke-width="0.6" fill="none"/>
<path d="M218.8,21.9C218.48,22.27 216.9,23.4 216.9,24.1C216.9,24.8 218.8,25.48 218.8,26.1C218.8,26.72 216.8,27.13 216.9,27.8C217,28.47 219.35,29.35 219.4,30.1C219.45,30.85 216.98,31.45 217.2,32.3C217.42,33.15 220.63,34.1 220.7,35.2C220.77,36.3 218.08,37.75 217.6,38.9C217.12,40.05 217.08,40.37 217.8,42.1C218.52,43.83 221.78,47.1 221.9,49.3C222.02,51.5 219.15,53.35 218.5,55.3C217.85,57.25 217.55,59.55 218,61C218.45,62.45 220.42,62.42 221.2,64C221.98,65.58 222.03,68.17 222.7,70.5C223.37,72.83 224.72,75.08 225.2,78C225.68,80.92 225.38,85.17 225.6,88C225.82,90.83 225.52,91.72 226.5,95C227.48,98.28 229.95,103.48 231.5,107.7C233.05,111.92 234.95,116.53 235.8,120.3C236.65,124.07 236.68,126.52 236.6,130.3C236.52,134.08 236.15,138.38 235.3,143C234.45,147.62 232.88,153 231.5,158C230.12,163 228.17,168.63 227,173C225.83,177.37 224.92,182.33 224.5,184.2" fill="none" stroke="#33338a" stroke-width="1.05" stroke-linejoin="round"/>
<path d="M238,21.9C238.2,22.43 239.28,24.15 239.2,25.1C239.12,26.05 237.58,26.67 237.5,27.6C237.42,28.53 238.77,29.65 238.7,30.7C238.63,31.75 237.1,32.73 237.1,33.9C237.1,35.07 238.7,36.33 238.7,37.7C238.7,39.07 236.88,40.43 237.1,42.1C237.32,43.77 239.9,45.72 240,47.7C240.1,49.68 238.08,51.95 237.7,54C237.32,56.05 237.27,58.08 237.7,60C238.13,61.92 239.02,62.5 240.3,65.5C241.58,68.5 244.35,74.25 245.4,78C246.45,81.75 246.18,85.17 246.6,88C247.02,90.83 247.05,91.72 247.9,95C248.75,98.28 250.65,103.07 251.7,107.7C252.75,112.33 253.92,118.18 254.2,122.8C254.48,127.42 254.03,130.78 253.4,135.4C252.77,140.02 251.63,145.23 250.4,150.5C249.17,155.77 247.25,161.38 246,167C244.75,172.62 243.42,181.33 242.9,184.2" fill="none" stroke="#3b3b92" stroke-width="1.05" stroke-linejoin="round"/>
<path d="M259.4,21.9C259.57,22.32 260.48,23.45 260.4,24.4C260.32,25.35 258.95,26.55 258.9,27.6C258.85,28.65 260.1,29.55 260.1,30.7C260.1,31.85 258.85,33.23 258.9,34.5C258.95,35.77 260.47,37.05 260.4,38.3C260.33,39.55 258.3,40.53 258.5,42C258.7,43.47 261.4,45.3 261.6,47.1C261.8,48.9 260.03,50.98 259.7,52.8C259.37,54.62 258.83,55.47 259.6,58C260.37,60.53 262.47,64.23 264.3,68C266.13,71.77 269.35,76.93 270.6,80.6C271.85,84.27 271.18,87.17 271.8,90C272.42,92.83 273.58,93.82 274.3,97.6C275.02,101.38 275.97,108.08 276.1,112.7C276.23,117.32 275.82,120.68 275.1,125.3C274.38,129.92 272.98,135.37 271.8,140.4C270.62,145.43 269.22,150.23 268,155.5C266.78,160.77 265.42,167.22 264.5,172C263.58,176.78 262.83,182.17 262.5,184.2" fill="none" stroke="#4a4fa0" stroke-width="1.05" stroke-linejoin="round"/>
<path d="M279.4,21.9C279.53,22.42 280.27,23.9 280.2,25C280.13,26.1 279.03,27.33 279,28.5C278.97,29.67 280,30.75 280,32C280,33.25 278.97,34.67 279,36C279.03,37.33 280.2,38.5 280.2,40C280.2,41.5 279.1,43.27 279,45C278.9,46.73 279.12,47.82 279.6,50.4C280.08,52.98 280.47,56.73 281.9,60.5C283.33,64.27 286.73,69.25 288.2,73C289.67,76.75 290.32,79.83 290.7,83C291.08,86.17 290.5,89.17 290.5,92C290.5,94.83 290.75,96.13 290.7,100C290.65,103.87 290.53,110.15 290.2,115.2C289.87,120.25 289.37,125.25 288.7,130.3C288.03,135.35 287.03,140.45 286.2,145.5C285.37,150.55 284.35,156.02 283.7,160.6C283.05,165.18 282.62,169.07 282.3,173C281.98,176.93 281.88,182.33 281.8,184.2" fill="none" stroke="#6fa3cf" stroke-width="1.05" stroke-linejoin="round"/>
<path d="M300.3,21.9C300.42,22.5 301.05,24.32 301,25.5C300.95,26.68 300.02,27.75 300,29C299.98,30.25 300.9,31.67 300.9,33C300.9,34.33 300,35.67 300,37C300,38.33 300.77,39.62 300.9,41C301.03,42.38 300.18,42.47 300.8,45.3C301.42,48.13 302.92,53.8 304.6,58C306.28,62.2 309.43,66.73 310.9,70.5C312.37,74.27 312.95,77.35 313.4,80.6C313.85,83.85 313.4,87.17 313.6,90C313.8,92.83 314.63,93.82 314.6,97.6C314.57,101.38 314.02,107.67 313.4,112.7C312.78,117.73 311.83,122.33 310.9,127.8C309.97,133.27 308.73,140.03 307.8,145.5C306.87,150.97 306.05,155.57 305.3,160.6C304.55,165.63 303.83,171.77 303.3,175.7C302.77,179.63 302.3,182.78 302.1,184.2" fill="none" stroke="#84bfd6" stroke-width="1.05" stroke-linejoin="round"/>
<text transform="translate(223.3,27) rotate(90)" font-size="8.2" fill="#231f20" stroke="#231f20" stroke-width="0.22" textLength="29.6" lengthAdjust="spacingAndGlyphs">490 nm</text>
<text transform="translate(242.5,27) rotate(90)" font-size="8.2" fill="#231f20" stroke="#231f20" stroke-width="0.22" textLength="29.6" lengthAdjust="spacingAndGlyphs">540 nm</text>
<text transform="translate(263.7,27) rotate(90)" font-size="8.2" fill="#231f20" stroke="#231f20" stroke-width="0.22" textLength="29.6" lengthAdjust="spacingAndGlyphs">590 nm</text>
<text transform="translate(284.5,27) rotate(90)" font-size="8.2" fill="#231f20" stroke="#231f20" stroke-width="0.22" textLength="29.6" lengthAdjust="spacingAndGlyphs">640 nm</text>
<text transform="translate(304.7,27) rotate(90)" font-size="8.2" fill="#231f20" stroke="#231f20" stroke-width="0.22" textLength="29.6" lengthAdjust="spacingAndGlyphs">690 nm</text>
<path d="M243.9,224.6V335.9" stroke="#a8bde0" stroke-width="0.6" fill="none"/>
<path d="M386.4,224.2V335.9" stroke="#e8b9a0" stroke-width="0.6" fill="none"/>
<path d="M243.9,335.9H386.4" stroke="#b0b0b0" stroke-width="0.7" fill="none"/>
<path d="M279.4,335.9v-1.3 M315,335.9v-1.3 M350.8,335.9v-1.3" stroke="#b0b0b0" stroke-width="0.6" fill="none"/>
<path d="M243.9,226.5h1.3M243.9,281.2h1.3" stroke="#a8bde0" stroke-width="0.6" fill="none"/>
<path d="M386.4,226.5h-1.3M386.4,263h-1.3M386.4,299.5h-1.3" stroke="#e8b9a0" stroke-width="0.6" fill="none"/>
<text x="236.9" y="229.79" font-size="9.2" fill="#3d6fb6" stroke="#3d6fb6" stroke-width="0.12" textLength="2.6" lengthAdjust="spacingAndGlyphs">1</text>
<text x="227.6" y="285.69" font-size="9.2" fill="#3d6fb6" stroke="#3d6fb6" stroke-width="0.12" textLength="11.6" lengthAdjust="spacingAndGlyphs">0.5</text>
<text x="235.5" y="340.49" font-size="9.2" fill="#3d6fb6" stroke="#3d6fb6" stroke-width="0.12" textLength="4.4" lengthAdjust="spacingAndGlyphs">0</text>
<text x="389.6" y="341.29" font-size="9.2" fill="#c4622d" stroke="#c4622d" stroke-width="0.12" textLength="4.4" lengthAdjust="spacingAndGlyphs">0</text>
<text x="390.4" y="303.6" font-size="9.2" fill="#c4622d" stroke="#c4622d" stroke-width="0.22" textLength="13.6" lengthAdjust="spacingAndGlyphs"><tspan font-style="italic" font-family="Liberation Serif, serif" font-size="9.5">π</tspan>/2</text>
<text x="390.4" y="266.4" font-size="9.2" fill="#c4622d" stroke="#c4622d" stroke-width="0.22"><tspan font-style="italic" font-family="Liberation Serif, serif" font-size="9.5">π</tspan></text>
<text x="390" y="230.2" font-size="9.2" fill="#c4622d" stroke="#c4622d" stroke-width="0.22" textLength="19.6" lengthAdjust="spacingAndGlyphs">3<tspan font-style="italic" font-family="Liberation Serif, serif" font-size="9.5">π</tspan>/2</text>
<text x="241.65" y="350.19" font-size="9.2" fill="#231f20" stroke="#231f20" stroke-width="0.12" textLength="4.3" lengthAdjust="spacingAndGlyphs">0</text>
<text x="275" y="350.19" font-size="9.2" fill="#231f20" stroke="#231f20" stroke-width="0.12" textLength="8.8" lengthAdjust="spacingAndGlyphs">50</text>
<text x="308" y="350.19" font-size="9.2" fill="#231f20" stroke="#231f20" stroke-width="0.12" textLength="14" lengthAdjust="spacingAndGlyphs">100</text>
<text x="344.2" y="350.19" font-size="9.2" fill="#231f20" stroke="#231f20" stroke-width="0.12" textLength="13.6" lengthAdjust="spacingAndGlyphs">150</text>
<text x="380.4" y="350.19" font-size="9.2" fill="#231f20" stroke="#231f20" stroke-width="0.12" textLength="13.2" lengthAdjust="spacingAndGlyphs">200</text>
<text x="301.7" y="362.9" font-size="10.2" fill="#231f20" stroke="#231f20" stroke-width="0.3" textLength="25.6" lengthAdjust="spacingAndGlyphs">d, nm</text>
<path d="M241.2,230.4L246.4,230.4 M241.96,228.56L245.64,232.24 M243.8,227.8L243.8,233 M245.64,228.56L241.96,232.24" stroke="#5b86d0" stroke-width="0.9" fill="none" stroke-linecap="round"/>
<circle cx="243.8" cy="230.4" r="1.9" fill="#5b86d0" fill-opacity="0.7"/>
<circle cx="243.8" cy="230.4" r="1.0" fill="#3a60b0" fill-opacity="0.75"/>
<path d="M266.2,230L271.4,230 M266.96,228.16L270.64,231.84 M268.8,227.4L268.8,232.6 M270.64,228.16L266.96,231.84" stroke="#5b86d0" stroke-width="0.9" fill="none" stroke-linecap="round"/>
<circle cx="268.8" cy="230" r="1.9" fill="#5b86d0" fill-opacity="0.7"/>
<circle cx="268.8" cy="230" r="1.0" fill="#3a60b0" fill-opacity="0.75"/>
<path d="M283.5,230L288.7,230 M284.26,228.16L287.94,231.84 M286.1,227.4L286.1,232.6 M287.94,228.16L284.26,231.84" stroke="#5b86d0" stroke-width="0.9" fill="none" stroke-linecap="round"/>
<circle cx="286.1" cy="230" r="1.9" fill="#5b86d0" fill-opacity="0.7"/>
<circle cx="286.1" cy="230" r="1.0" fill="#3a60b0" fill-opacity="0.75"/>
<path d="M300.6,230.6L305.8,230.6 M301.36,228.76L305.04,232.44 M303.2,228L303.2,233.2 M305.04,228.76L301.36,232.44" stroke="#5b86d0" stroke-width="0.9" fill="none" stroke-linecap="round"/>
<circle cx="303.2" cy="230.6" r="1.9" fill="#5b86d0" fill-opacity="0.7"/>
<circle cx="303.2" cy="230.6" r="1.0" fill="#3a60b0" fill-opacity="0.75"/>
<path d="M317.8,234.7L323,234.7 M318.56,232.86L322.24,236.54 M320.4,232.1L320.4,237.3 M322.24,232.86L318.56,236.54" stroke="#5b86d0" stroke-width="0.9" fill="none" stroke-linecap="round"/>
<circle cx="320.4" cy="234.7" r="1.9" fill="#5b86d0" fill-opacity="0.7"/>
<circle cx="320.4" cy="234.7" r="1.0" fill="#3a60b0" fill-opacity="0.75"/>
<path d="M337.2,240.3L342.4,240.3 M337.96,238.46L341.64,242.14 M339.8,237.7L339.8,242.9 M341.64,238.46L337.96,242.14" stroke="#5b86d0" stroke-width="0.9" fill="none" stroke-linecap="round"/>
<circle cx="339.8" cy="240.3" r="1.9" fill="#5b86d0" fill-opacity="0.7"/>
<circle cx="339.8" cy="240.3" r="1.0" fill="#3a60b0" fill-opacity="0.75"/>
<path d="M355.7,246.4L360.9,246.4 M356.46,244.56L360.14,248.24 M358.3,243.8L358.3,249 M360.14,244.56L356.46,248.24" stroke="#5b86d0" stroke-width="0.9" fill="none" stroke-linecap="round"/>
<circle cx="358.3" cy="246.4" r="1.9" fill="#5b86d0" fill-opacity="0.7"/>
<circle cx="358.3" cy="246.4" r="1.0" fill="#3a60b0" fill-opacity="0.75"/>
<path d="M374.8,247.5L380,247.5 M375.56,245.66L379.24,249.34 M377.4,244.9L377.4,250.1 M379.24,245.66L375.56,249.34" stroke="#5b86d0" stroke-width="0.9" fill="none" stroke-linecap="round"/>
<circle cx="377.4" cy="247.5" r="1.9" fill="#5b86d0" fill-opacity="0.7"/>
<circle cx="377.4" cy="247.5" r="1.0" fill="#3a60b0" fill-opacity="0.75"/>
<path d="M241.2,334.4L246.4,334.4 M241.96,332.56L245.64,336.24 M243.8,331.8L243.8,337 M245.64,332.56L241.96,336.24" stroke="#e0784a" stroke-width="0.9" fill="none" stroke-linecap="round"/>
<circle cx="243.8" cy="334.4" r="1.9" fill="#e0784a" fill-opacity="0.7"/>
<circle cx="243.8" cy="334.4" r="1.0" fill="#b84a20" fill-opacity="0.75"/>
<path d="M266.2,326.8L271.4,326.8 M266.96,324.96L270.64,328.64 M268.8,324.2L268.8,329.4 M270.64,324.96L266.96,328.64" stroke="#e0784a" stroke-width="0.9" fill="none" stroke-linecap="round"/>
<circle cx="268.8" cy="326.8" r="1.9" fill="#e0784a" fill-opacity="0.7"/>
<circle cx="268.8" cy="326.8" r="1.0" fill="#b84a20" fill-opacity="0.75"/>
<path d="M283.5,323.6L288.7,323.6 M284.26,321.76L287.94,325.44 M286.1,321L286.1,326.2 M287.94,321.76L284.26,325.44" stroke="#e0784a" stroke-width="0.9" fill="none" stroke-linecap="round"/>
<circle cx="286.1" cy="323.6" r="1.9" fill="#e0784a" fill-opacity="0.7"/>
<circle cx="286.1" cy="323.6" r="1.0" fill="#b84a20" fill-opacity="0.75"/>
<path d="M300.6,319.4L305.8,319.4 M301.36,317.56L305.04,321.24 M303.2,316.8L303.2,322 M305.04,317.56L301.36,321.24" stroke="#e0784a" stroke-width="0.9" fill="none" stroke-linecap="round"/>
<circle cx="303.2" cy="319.4" r="1.9" fill="#e0784a" fill-opacity="0.7"/>
<circle cx="303.2" cy="319.4" r="1.0" fill="#b84a20" fill-opacity="0.75"/>
<path d="M317.8,313.9L323,313.9 M318.56,312.06L322.24,315.74 M320.4,311.3L320.4,316.5 M322.24,312.06L318.56,315.74" stroke="#e0784a" stroke-width="0.9" fill="none" stroke-linecap="round"/>
<circle cx="320.4" cy="313.9" r="1.9" fill="#e0784a" fill-opacity="0.7"/>
<circle cx="320.4" cy="313.9" r="1.0" fill="#b84a20" fill-opacity="0.75"/>
<path d="M337.2,307.7L342.4,307.7 M337.96,305.86L341.64,309.54 M339.8,305.1L339.8,310.3 M341.64,305.86L337.96,309.54" stroke="#e0784a" stroke-width="0.9" fill="none" stroke-linecap="round"/>
<circle cx="339.8" cy="307.7" r="1.9" fill="#e0784a" fill-opacity="0.7"/>
<circle cx="339.8" cy="307.7" r="1.0" fill="#b84a20" fill-opacity="0.75"/>
<path d="M355.7,301L360.9,301 M356.46,299.16L360.14,302.84 M358.3,298.4L358.3,303.6 M360.14,299.16L356.46,302.84" stroke="#e0784a" stroke-width="0.9" fill="none" stroke-linecap="round"/>
<circle cx="358.3" cy="301" r="1.9" fill="#e0784a" fill-opacity="0.7"/>
<circle cx="358.3" cy="301" r="1.0" fill="#b84a20" fill-opacity="0.75"/>
<path d="M374.8,291.9L380,291.9 M375.56,290.06L379.24,293.74 M377.4,289.3L377.4,294.5 M379.24,290.06L375.56,293.74" stroke="#e0784a" stroke-width="0.9" fill="none" stroke-linecap="round"/>
<circle cx="377.4" cy="291.9" r="1.9" fill="#e0784a" fill-opacity="0.7"/>
<circle cx="377.4" cy="291.9" r="1.0" fill="#b84a20" fill-opacity="0.75"/>
<circle cx="243.8" cy="230.4" r="1.25" fill="#2b4a90"/>
<circle cx="268.8" cy="230" r="1.25" fill="#2b4a90"/>
<circle cx="286.1" cy="230" r="1.25" fill="#2b4a90"/>
<circle cx="303.2" cy="234.1" r="1.25" fill="#2b4a90"/>
<circle cx="320.4" cy="241.3" r="1.25" fill="#2b4a90"/>
<circle cx="339.8" cy="247.5" r="1.25" fill="#2b4a90"/>
<circle cx="358.3" cy="246.4" r="1.25" fill="#2b4a90"/>
<circle cx="377.4" cy="235.1" r="1.25" fill="#2b4a90"/>
<circle cx="243.8" cy="334.4" r="1.25" fill="#8e3a1c"/>
<circle cx="268.8" cy="326.8" r="1.25" fill="#8e3a1c"/>
<circle cx="286.1" cy="322.1" r="1.25" fill="#8e3a1c"/>
<circle cx="303.2" cy="315.5" r="1.25" fill="#8e3a1c"/>
<circle cx="320.4" cy="308.8" r="1.25" fill="#8e3a1c"/>
<circle cx="339.8" cy="299.9" r="1.25" fill="#8e3a1c"/>
<circle cx="358.3" cy="288.6" r="1.25" fill="#8e3a1c"/>
<circle cx="377.4" cy="270.9" r="1.25" fill="#8e3a1c"/>
<circle cx="249.9" cy="252.4" r="1.25" fill="#2b4a90"/>
<path d="M247.3,268L252.5,268 M248.06,266.16L251.74,269.84 M249.9,265.4L249.9,270.6 M251.74,266.16L248.06,269.84" stroke="#5b86d0" stroke-width="0.9" fill="none" stroke-linecap="round"/>
<circle cx="249.9" cy="268" r="1.9" fill="#5b86d0" fill-opacity="0.7"/>
<circle cx="249.9" cy="268" r="1.0" fill="#3a60b0" fill-opacity="0.75"/>
<circle cx="249.9" cy="282.4" r="1.25" fill="#8e3a1c"/>
<path d="M247.3,298.1L252.5,298.1 M248.06,296.26L251.74,299.94 M249.9,295.5L249.9,300.7 M251.74,296.26L248.06,299.94" stroke="#e0784a" stroke-width="0.9" fill="none" stroke-linecap="round"/>
<circle cx="249.9" cy="298.1" r="1.9" fill="#e0784a" fill-opacity="0.7"/>
<circle cx="249.9" cy="298.1" r="1.0" fill="#b84a20" fill-opacity="0.75"/>
<text x="257.9" y="254.2" font-size="8.8" fill="#231f20" stroke="#231f20" stroke-width="0.1">T</text>
<text x="263.3" y="258" font-size="6.6" fill="#231f20" stroke="#231f20" stroke-width="0.12" textLength="8.2" lengthAdjust="spacingAndGlyphs">cyl</text>
<text x="257.9" y="270" font-size="8.8" fill="#231f20" stroke="#231f20" stroke-width="0.1">T</text>
<text x="263.3" y="273.6" font-size="6.6" fill="#231f20" stroke="#231f20" stroke-width="0.12" textLength="10.9" lengthAdjust="spacingAndGlyphs">con</text>
<text transform="translate(257.9,285.6) skewX(-14)" font-size="9.6" fill="#231f20" font-family="Liberation Serif, DejaVu Serif, serif">ϕ</text>
<text x="263.3" y="288.6" font-size="6.6" fill="#231f20" stroke="#231f20" stroke-width="0.12" textLength="8.2" lengthAdjust="spacingAndGlyphs">cyl</text>
<text transform="translate(257.9,300.4) skewX(-14)" font-size="9.6" fill="#231f20" font-family="Liberation Serif, DejaVu Serif, serif">ϕ</text>
<text x="263.3" y="303.3" font-size="6.6" fill="#231f20" stroke="#231f20" stroke-width="0.12" textLength="10.9" lengthAdjust="spacingAndGlyphs">con</text>
<defs>
<clipPath id="cpx"><polygon points="458.4,250 489.9,250 489.9,313.6 458.4,328.7"/></clipPath>
<clipPath id="cpb"><polygon points="458.6,328.5 490.3,313.3 490.3,323.1 458.6,343.2"/></clipPath>
<clipPath id="cpt"><polygon points="433.1,246.4 464.6,229.5 514.9,239.6 487,255.8"/></clipPath>
<linearGradient id="beamx" x1="0" x2="1" y1="0" y2="0"><stop offset="0" stop-color="#8ed4ee"/><stop offset="0.13" stop-color="#d6e69a"/><stop offset="0.26" stop-color="#f8e660"/><stop offset="0.5" stop-color="#f6d24c"/><stop offset="0.74" stop-color="#f8e660"/><stop offset="0.87" stop-color="#d6e69a"/><stop offset="1" stop-color="#8ed4ee"/></linearGradient>
<linearGradient id="beamy" x1="0" x2="0" y1="0" y2="1"><stop offset="0" stop-color="#7fd0f0" stop-opacity="1"/><stop offset="0.22" stop-color="#9fdccc" stop-opacity="0.5"/><stop offset="0.4" stop-color="#f8e45c" stop-opacity="0"/><stop offset="0.9" stop-color="#f8e45c" stop-opacity="0"/><stop offset="1" stop-color="#bfe4c0" stop-opacity="0.8"/></linearGradient>
</defs>
<polygon points="433,323.5 458.6,328.5 458.6,343.2 433,337.4" fill="#426bce" stroke="#10141c" stroke-width="0.55" stroke-linejoin="round"/>
<polygon points="458.6,328.5 490.3,313.3 490.3,323.1 458.6,343.2" fill="#2f57b6" stroke="#10141c" stroke-width="0.55" stroke-linejoin="round"/>
<path d="M444.2,313l14,22 M451.4,313l14,22 M458.6,313l14,22 M465.8,313l14,22 M473,313l14,22 M480.2,313l14,22 M487.4,313l14,22 M494.6,313l14,22" stroke="#1d3a86" stroke-width="0.7" fill="none" clip-path="url(#cpb)"/>
<polygon points="432.6,250 458.4,255 458.4,328.6 432.6,323.5" fill="#6e3f1d" stroke="#10141c" stroke-width="0.55" stroke-linejoin="round"/>
<polygon points="433.2,250 440,251.5 440,324.5 433.2,323.2" fill="#7a4824" opacity="0.6"/>
<g clip-path="url(#cpx)">
<rect x="458" y="250" width="33" height="80" fill="#9c9ea2"/>
<polygon points="458,250 491,250 491,269.2 458,287.6" fill="#6381b8"/>
<path d="M458,211.5L491,231 M458,221L491,240.5 M458,230.5L491,250 M458,240L491,259.5 M458,249.5L491,269 M458,259L491,278.5 M458,268.5L491,288 M458,278L491,297.5 M458,287.5L491,307 M458,297L491,316.5 M458,306.5L491,326 M458,316L491,335.5 M458,325.5L491,345 M458,335L491,354.5 M458,344.5L491,364" stroke="#2b3550" stroke-width="0.6" fill="none"/>
<path d="M458,287.6L491,269.2" stroke="#10141c" stroke-width="0.7" fill="none"/>
<rect x="488.7" y="250" width="2" height="70" fill="#1b2748"/>
<polygon points="470.1,281.4 479.3,276.4 479.3,318.9 470.1,323.2" fill="#b4c6d2"/>
<path d="M470.1,281.4V323.2M479.3,276.4V318.9" stroke="#10141c" stroke-width="0.6" fill="none"/>
</g>
<path d="M474.7,276.2 476.84,278.12 477.63,280.05 478.17,281.97 478.56,283.89 478.86,285.82 479.08,287.74 479.23,289.67 479.33,291.59 479.39,293.51 479.4,295.44 479.4,303.68 479.34,305.51 479.18,307.34 478.92,309.18 478.58,311.01 478.14,312.84 477.62,314.67 477.01,316.5 476.32,318.34 475.55,320.17 474.7,322 L474.7,322 473.85,320.17 473.08,318.34 472.39,316.5 471.78,314.67 471.26,312.84 470.82,311.01 470.48,309.18 470.22,307.34 470.06,305.51 470,303.68 470,295.44 470.01,293.51 470.07,291.59 470.17,289.67 470.32,287.74 470.54,285.82 470.84,283.89 471.23,281.97 471.77,280.05 472.56,278.12 474.7,276.2Z" fill="url(#beamx)"/>
<path d="M474.7,276.2 476.84,278.12 477.63,280.05 478.17,281.97 478.56,283.89 478.86,285.82 479.08,287.74 479.23,289.67 479.33,291.59 479.39,293.51 479.4,295.44 479.4,303.68 479.34,305.51 479.18,307.34 478.92,309.18 478.58,311.01 478.14,312.84 477.62,314.67 477.01,316.5 476.32,318.34 475.55,320.17 474.7,322 L474.7,322 473.85,320.17 473.08,318.34 472.39,316.5 471.78,314.67 471.26,312.84 470.82,311.01 470.48,309.18 470.22,307.34 470.06,305.51 470,303.68 470,295.44 470.01,293.51 470.07,291.59 470.17,289.67 470.32,287.74 470.54,285.82 470.84,283.89 471.23,281.97 471.77,280.05 472.56,278.12 474.7,276.2Z" fill="url(#beamy)"/>
<polygon points="458.4,255 489.9,260 489.9,313.6 458.4,328.7" fill="none" stroke="#10141c" stroke-width="0.55" stroke-linejoin="round"/>
<polygon points="433.1,246.4 487,255.8 487,262 433.1,252.2" fill="#8fb5a4" stroke="#10141c" stroke-width="0.55" stroke-linejoin="round"/>
<polygon points="487,255.8 514.9,239.6 514.9,244.8 487,262" fill="#a9c9ba" stroke="#10141c" stroke-width="0.55" stroke-linejoin="round"/>
<polygon points="433.1,246.4 464.6,229.5 514.9,239.6 487,255.8" fill="#2e3a38"/>
<path d="M433.1,246.4l31.5,-16.9 M437.59,247.18l31.5,-16.9 M442.08,247.97l31.5,-16.9 M446.58,248.75l31.5,-16.9 M451.07,249.53l31.5,-16.9 M455.56,250.32l31.5,-16.9 M460.05,251.1l31.5,-16.9 M464.54,251.88l31.5,-16.9 M469.03,252.67l31.5,-16.9 M473.52,253.45l31.5,-16.9 M478.02,254.23l31.5,-16.9 M482.51,255.02l31.5,-16.9 M487,255.8l31.5,-16.9" stroke="#93b1a5" stroke-width="0.85" stroke-dasharray="2.0 0.9" fill="none" clip-path="url(#cpt)"/>
<polygon points="456.6,243.4 470.9,236.7 492.6,241.8 479.1,249.1" fill="#9cbdae"/>
<polygon points="433.1,246.4 464.6,229.5 514.9,239.6 487,255.8" fill="none" stroke="#10141c" stroke-width="0.55" stroke-linejoin="round"/>
</svg></body></html>
